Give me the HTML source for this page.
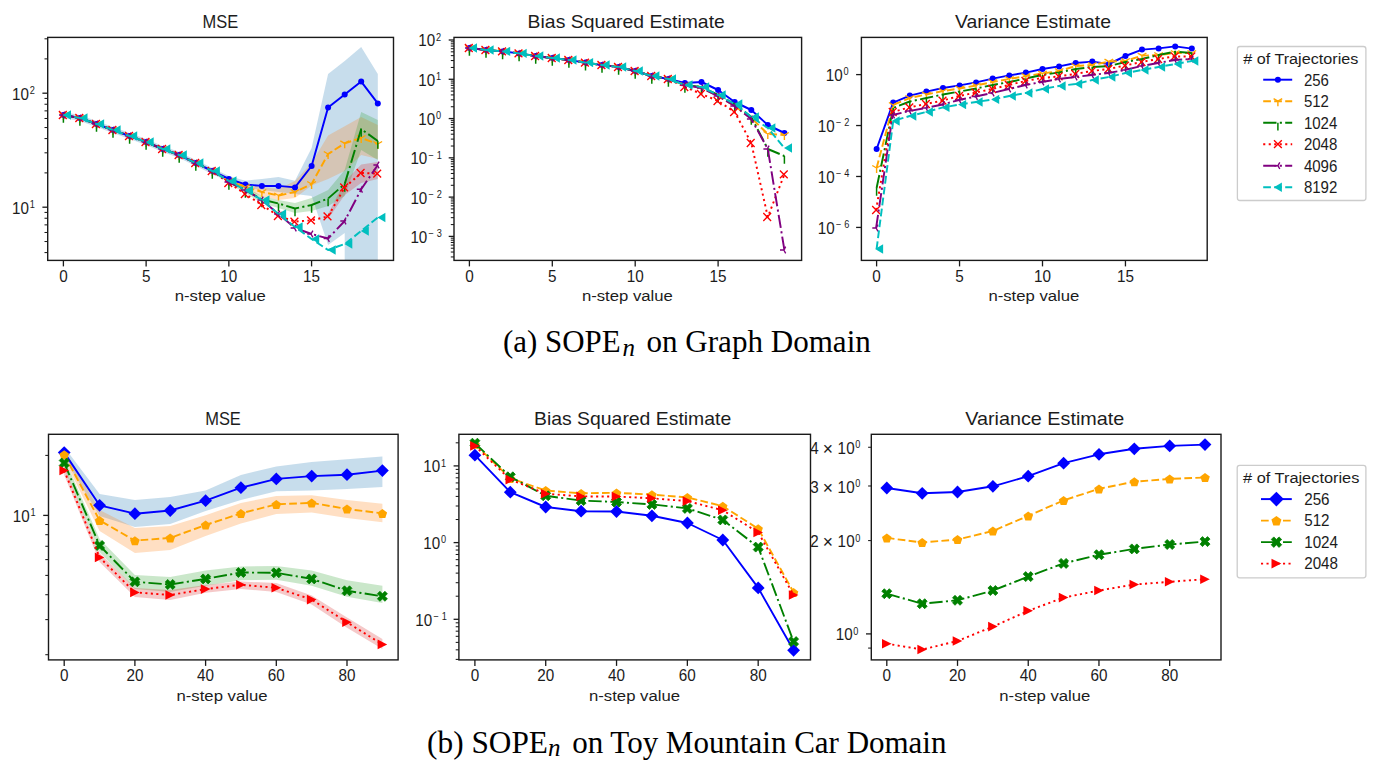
<!DOCTYPE html>
<html><head><meta charset="utf-8"><style>
html,body{margin:0;padding:0;background:#fff;width:1376px;height:760px;overflow:hidden}
svg{display:block}
</style></head><body>
<svg width="1376" height="760" viewBox="0 0 1376 760">
<rect width="1376" height="760" fill="#fff"/>
<clipPath id="c1"><rect x="47.7" y="37.4" width="345.8" height="222.99999999999997"/></clipPath><g clip-path="url(#c1)">
<polygon points="63.4,112.0 79.9,115.0 96.5,121.0 113.0,127.0 129.6,133.0 146.1,139.0 162.7,146.0 179.2,152.0 195.8,160.0 212.3,168.0 228.9,176.0 245.4,180.7 261.9,179.0 278.5,177.0 295.0,180.7 311.6,148.0 328.1,74.0 344.7,61.0 361.2,47.0 377.8,74.0 377.8,261.0 344.7,261.0 344.7,233.0 328.1,245.0 311.6,196.0 295.0,194.0 278.5,192.0 261.9,190.0 245.4,188.0 228.9,182.0 212.3,174.0 195.8,166.0 179.2,158.0 162.7,152.0 146.1,145.0 129.6,139.0 113.0,133.0 96.5,127.0 79.9,121.0 63.4,118.0" fill="#1f77b4" fill-opacity="0.25" stroke="none"/>
<polygon points="228.9,179.0 245.4,184.0 261.9,187.0 278.5,189.0 295.0,181.0 311.6,163.0 328.1,135.5 344.7,126.3 361.2,117.0 377.8,125.0 377.8,159.0 361.2,155.0 344.7,171.0 328.1,179.0 311.6,185.5 295.0,198.0 278.5,200.0 261.9,196.0 245.4,190.0 228.9,183.0" fill="#ff7f0e" fill-opacity="0.25" stroke="none"/>
<polygon points="228.9,180.0 245.4,187.0 261.9,196.0 278.5,200.0 295.0,203.0 311.6,198.0 328.1,190.0 344.7,170.0 361.2,112.0 377.8,120.0 377.8,160.0 361.2,150.0 344.7,196.0 328.1,206.0 311.6,211.0 295.0,213.0 278.5,208.0 261.9,203.0 245.4,193.0 228.9,184.0" fill="#2ca02c" fill-opacity="0.25" stroke="none"/>
<polygon points="328.1,214.0 344.7,181.6 361.2,164.5 377.8,162.0 377.8,179.0 361.2,183.0 344.7,195.0 328.1,219.0" fill="#d62728" fill-opacity="0.25" stroke="none"/>
<path d="M63.4,115.0L79.9,118.0L96.5,124.0L113.0,130.0L129.6,136.0L146.1,142.0L162.7,149.0L179.2,155.0L195.8,163.0L212.3,171.0L228.9,179.0L245.4,184.4L261.9,185.9L278.5,185.9L295.0,187.4L311.6,166.0L328.1,107.5L344.7,94.6L361.2,81.6L377.8,103.4" fill="none" stroke="#0000ff" stroke-width="1.95" stroke-linejoin="round"/>
<circle cx="63.4" cy="115.0" r="3.0" fill="#0000ff"/>
<circle cx="79.9" cy="118.0" r="3.0" fill="#0000ff"/>
<circle cx="96.5" cy="124.0" r="3.0" fill="#0000ff"/>
<circle cx="113.0" cy="130.0" r="3.0" fill="#0000ff"/>
<circle cx="129.6" cy="136.0" r="3.0" fill="#0000ff"/>
<circle cx="146.1" cy="142.0" r="3.0" fill="#0000ff"/>
<circle cx="162.7" cy="149.0" r="3.0" fill="#0000ff"/>
<circle cx="179.2" cy="155.0" r="3.0" fill="#0000ff"/>
<circle cx="195.8" cy="163.0" r="3.0" fill="#0000ff"/>
<circle cx="212.3" cy="171.0" r="3.0" fill="#0000ff"/>
<circle cx="228.9" cy="179.0" r="3.0" fill="#0000ff"/>
<circle cx="245.4" cy="184.4" r="3.0" fill="#0000ff"/>
<circle cx="261.9" cy="185.9" r="3.0" fill="#0000ff"/>
<circle cx="278.5" cy="185.9" r="3.0" fill="#0000ff"/>
<circle cx="295.0" cy="187.4" r="3.0" fill="#0000ff"/>
<circle cx="311.6" cy="166.0" r="3.0" fill="#0000ff"/>
<circle cx="328.1" cy="107.5" r="3.0" fill="#0000ff"/>
<circle cx="344.7" cy="94.6" r="3.0" fill="#0000ff"/>
<circle cx="361.2" cy="81.6" r="3.0" fill="#0000ff"/>
<circle cx="377.8" cy="103.4" r="3.0" fill="#0000ff"/>
<path d="M63.4,115.0L79.9,118.0L96.5,124.0L113.0,130.0L129.6,136.0L146.1,142.0L162.7,149.0L179.2,155.0L195.8,163.0L212.3,171.0L228.9,181.0L245.4,187.0L261.9,192.0L278.5,195.5L295.0,192.0L311.6,184.0L328.1,154.0L344.7,143.3L361.2,138.0L377.8,144.0" fill="none" stroke="#ffa500" stroke-width="1.95" stroke-linejoin="round" stroke-dasharray="7.7,3.3"/>
<path d="M63.4,115.0L63.4,120.0M63.4,115.0L59.1,112.5M63.4,115.0L67.7,112.5" stroke="#ffa500" stroke-width="1.4" fill="none"/>
<path d="M79.9,118.0L79.9,123.0M79.9,118.0L75.6,115.5M79.9,118.0L84.3,115.5" stroke="#ffa500" stroke-width="1.4" fill="none"/>
<path d="M96.5,124.0L96.5,129.0M96.5,124.0L92.2,121.5M96.5,124.0L100.8,121.5" stroke="#ffa500" stroke-width="1.4" fill="none"/>
<path d="M113.0,130.0L113.0,135.0M113.0,130.0L108.7,127.5M113.0,130.0L117.4,127.5" stroke="#ffa500" stroke-width="1.4" fill="none"/>
<path d="M129.6,136.0L129.6,141.0M129.6,136.0L125.3,133.5M129.6,136.0L133.9,133.5" stroke="#ffa500" stroke-width="1.4" fill="none"/>
<path d="M146.1,142.0L146.1,147.0M146.1,142.0L141.8,139.5M146.1,142.0L150.5,139.5" stroke="#ffa500" stroke-width="1.4" fill="none"/>
<path d="M162.7,149.0L162.7,154.0M162.7,149.0L158.3,146.5M162.7,149.0L167.0,146.5" stroke="#ffa500" stroke-width="1.4" fill="none"/>
<path d="M179.2,155.0L179.2,160.0M179.2,155.0L174.9,152.5M179.2,155.0L183.5,152.5" stroke="#ffa500" stroke-width="1.4" fill="none"/>
<path d="M195.8,163.0L195.8,168.0M195.8,163.0L191.4,160.5M195.8,163.0L200.1,160.5" stroke="#ffa500" stroke-width="1.4" fill="none"/>
<path d="M212.3,171.0L212.3,176.0M212.3,171.0L208.0,168.5M212.3,171.0L216.6,168.5" stroke="#ffa500" stroke-width="1.4" fill="none"/>
<path d="M228.9,181.0L228.9,186.0M228.9,181.0L224.5,178.5M228.9,181.0L233.2,178.5" stroke="#ffa500" stroke-width="1.4" fill="none"/>
<path d="M245.4,187.0L245.4,192.0M245.4,187.0L241.1,184.5M245.4,187.0L249.7,184.5" stroke="#ffa500" stroke-width="1.4" fill="none"/>
<path d="M261.9,192.0L261.9,197.0M261.9,192.0L257.6,189.5M261.9,192.0L266.3,189.5" stroke="#ffa500" stroke-width="1.4" fill="none"/>
<path d="M278.5,195.5L278.5,200.5M278.5,195.5L274.2,193.0M278.5,195.5L282.8,193.0" stroke="#ffa500" stroke-width="1.4" fill="none"/>
<path d="M295.0,192.0L295.0,197.0M295.0,192.0L290.7,189.5M295.0,192.0L299.4,189.5" stroke="#ffa500" stroke-width="1.4" fill="none"/>
<path d="M311.6,184.0L311.6,189.0M311.6,184.0L307.2,181.5M311.6,184.0L315.9,181.5" stroke="#ffa500" stroke-width="1.4" fill="none"/>
<path d="M328.1,154.0L328.1,159.0M328.1,154.0L323.8,151.5M328.1,154.0L332.4,151.5" stroke="#ffa500" stroke-width="1.4" fill="none"/>
<path d="M344.7,143.3L344.7,148.3M344.7,143.3L340.3,140.8M344.7,143.3L349.0,140.8" stroke="#ffa500" stroke-width="1.4" fill="none"/>
<path d="M361.2,138.0L361.2,143.0M361.2,138.0L356.9,135.5M361.2,138.0L365.5,135.5" stroke="#ffa500" stroke-width="1.4" fill="none"/>
<path d="M377.8,144.0L377.8,149.0M377.8,144.0L373.4,141.5M377.8,144.0L382.1,141.5" stroke="#ffa500" stroke-width="1.4" fill="none"/>
<path d="M63.4,115.0L79.9,118.0L96.5,124.0L113.0,130.0L129.6,136.0L146.1,142.0L162.7,149.0L179.2,155.0L195.8,163.0L212.3,171.0L228.9,182.0L245.4,190.0L261.9,199.5L278.5,203.5L295.0,208.5L311.6,205.0L328.1,198.5L344.7,184.0L361.2,129.0L377.8,141.0" fill="none" stroke="#008000" stroke-width="1.95" stroke-linejoin="round" stroke-dasharray="13.3,3.3,2.1,3.3"/>
<path d="M63.4,115.0L63.4,122.8" stroke="#008000" stroke-width="1.5" fill="none"/>
<path d="M79.9,118.0L79.9,125.8" stroke="#008000" stroke-width="1.5" fill="none"/>
<path d="M96.5,124.0L96.5,131.8" stroke="#008000" stroke-width="1.5" fill="none"/>
<path d="M113.0,130.0L113.0,137.8" stroke="#008000" stroke-width="1.5" fill="none"/>
<path d="M129.6,136.0L129.6,143.8" stroke="#008000" stroke-width="1.5" fill="none"/>
<path d="M146.1,142.0L146.1,149.8" stroke="#008000" stroke-width="1.5" fill="none"/>
<path d="M162.7,149.0L162.7,156.8" stroke="#008000" stroke-width="1.5" fill="none"/>
<path d="M179.2,155.0L179.2,162.8" stroke="#008000" stroke-width="1.5" fill="none"/>
<path d="M195.8,163.0L195.8,170.8" stroke="#008000" stroke-width="1.5" fill="none"/>
<path d="M212.3,171.0L212.3,178.8" stroke="#008000" stroke-width="1.5" fill="none"/>
<path d="M228.9,182.0L228.9,189.8" stroke="#008000" stroke-width="1.5" fill="none"/>
<path d="M245.4,190.0L245.4,197.8" stroke="#008000" stroke-width="1.5" fill="none"/>
<path d="M261.9,199.5L261.9,207.3" stroke="#008000" stroke-width="1.5" fill="none"/>
<path d="M278.5,203.5L278.5,211.3" stroke="#008000" stroke-width="1.5" fill="none"/>
<path d="M295.0,208.5L295.0,216.3" stroke="#008000" stroke-width="1.5" fill="none"/>
<path d="M311.6,205.0L311.6,212.8" stroke="#008000" stroke-width="1.5" fill="none"/>
<path d="M328.1,198.5L328.1,206.3" stroke="#008000" stroke-width="1.5" fill="none"/>
<path d="M344.7,184.0L344.7,191.8" stroke="#008000" stroke-width="1.5" fill="none"/>
<path d="M361.2,129.0L361.2,136.8" stroke="#008000" stroke-width="1.5" fill="none"/>
<path d="M377.8,141.0L377.8,148.8" stroke="#008000" stroke-width="1.5" fill="none"/>
<path d="M63.4,115.0L79.9,118.0L96.5,124.0L113.0,130.0L129.6,136.0L146.1,142.0L162.7,149.0L179.2,155.0L195.8,163.0L212.3,171.0L228.9,183.0L245.4,194.0L261.9,205.0L278.5,216.0L295.0,221.6L311.6,220.3L328.1,216.3L344.7,187.4L361.2,173.0L377.8,173.6" fill="none" stroke="#ff0000" stroke-width="1.95" stroke-linejoin="round" stroke-dasharray="2.1,3.4"/>
<path d="M58.9,111.1L66.7,118.9M58.9,118.9L66.7,111.1" stroke="#ff0000" stroke-width="1.35" fill="none"/>
<path d="M75.4,114.1L83.2,121.9M75.4,121.9L83.2,114.1" stroke="#ff0000" stroke-width="1.35" fill="none"/>
<path d="M92.0,120.1L99.8,127.9M92.0,127.9L99.8,120.1" stroke="#ff0000" stroke-width="1.35" fill="none"/>
<path d="M108.5,126.1L116.3,133.9M108.5,133.9L116.3,126.1" stroke="#ff0000" stroke-width="1.35" fill="none"/>
<path d="M125.1,132.1L132.9,139.9M125.1,139.9L132.9,132.1" stroke="#ff0000" stroke-width="1.35" fill="none"/>
<path d="M141.6,138.1L149.4,145.9M141.6,145.9L149.4,138.1" stroke="#ff0000" stroke-width="1.35" fill="none"/>
<path d="M158.2,145.1L166.0,152.9M158.2,152.9L166.0,145.1" stroke="#ff0000" stroke-width="1.35" fill="none"/>
<path d="M174.7,151.1L182.5,158.9M174.7,158.9L182.5,151.1" stroke="#ff0000" stroke-width="1.35" fill="none"/>
<path d="M191.3,159.1L199.1,166.9M191.3,166.9L199.1,159.1" stroke="#ff0000" stroke-width="1.35" fill="none"/>
<path d="M207.8,167.1L215.6,174.9M207.8,174.9L215.6,167.1" stroke="#ff0000" stroke-width="1.35" fill="none"/>
<path d="M224.4,179.1L232.2,186.9M224.4,186.9L232.2,179.1" stroke="#ff0000" stroke-width="1.35" fill="none"/>
<path d="M240.9,190.1L248.7,197.9M240.9,197.9L248.7,190.1" stroke="#ff0000" stroke-width="1.35" fill="none"/>
<path d="M257.4,201.1L265.2,208.9M257.4,208.9L265.2,201.1" stroke="#ff0000" stroke-width="1.35" fill="none"/>
<path d="M274.0,212.1L281.8,219.9M274.0,219.9L281.8,212.1" stroke="#ff0000" stroke-width="1.35" fill="none"/>
<path d="M290.5,217.7L298.3,225.5M290.5,225.5L298.3,217.7" stroke="#ff0000" stroke-width="1.35" fill="none"/>
<path d="M307.1,216.4L314.9,224.2M307.1,224.2L314.9,216.4" stroke="#ff0000" stroke-width="1.35" fill="none"/>
<path d="M323.6,212.4L331.4,220.2M323.6,220.2L331.4,212.4" stroke="#ff0000" stroke-width="1.35" fill="none"/>
<path d="M340.2,183.5L348.0,191.3M340.2,191.3L348.0,183.5" stroke="#ff0000" stroke-width="1.35" fill="none"/>
<path d="M356.7,169.1L364.5,176.9M356.7,176.9L364.5,169.1" stroke="#ff0000" stroke-width="1.35" fill="none"/>
<path d="M373.3,169.7L381.1,177.5M373.3,177.5L381.1,169.7" stroke="#ff0000" stroke-width="1.35" fill="none"/>
<path d="M63.4,115.0L79.9,118.0L96.5,124.0L113.0,130.0L129.6,136.0L146.1,142.0L162.7,149.0L179.2,155.0L195.8,163.0L212.3,171.0L228.9,182.0L245.4,190.0L261.9,200.0L278.5,214.0L295.0,228.0L311.6,234.0L328.1,238.5L344.7,221.0L361.2,189.3L377.8,165.0" fill="none" stroke="#800080" stroke-width="1.95" stroke-linejoin="round" stroke-dasharray="13.3,3.3,2.1,3.3"/>
<path d="M62.8,115.0L59.0,115.0M62.8,115.0L64.7,111.7M62.8,115.0L64.7,118.3" stroke="#800080" stroke-width="1.4" fill="none"/>
<path d="M79.3,118.0L75.5,118.0M79.3,118.0L81.2,114.7M79.3,118.0L81.2,121.3" stroke="#800080" stroke-width="1.4" fill="none"/>
<path d="M95.9,124.0L92.1,124.0M95.9,124.0L97.8,120.7M95.9,124.0L97.8,127.3" stroke="#800080" stroke-width="1.4" fill="none"/>
<path d="M112.4,130.0L108.6,130.0M112.4,130.0L114.3,126.7M112.4,130.0L114.3,133.3" stroke="#800080" stroke-width="1.4" fill="none"/>
<path d="M129.0,136.0L125.2,136.0M129.0,136.0L130.9,132.7M129.0,136.0L130.9,139.3" stroke="#800080" stroke-width="1.4" fill="none"/>
<path d="M145.5,142.0L141.7,142.0M145.5,142.0L147.4,138.7M145.5,142.0L147.4,145.3" stroke="#800080" stroke-width="1.4" fill="none"/>
<path d="M162.1,149.0L158.3,149.0M162.1,149.0L164.0,145.7M162.1,149.0L164.0,152.3" stroke="#800080" stroke-width="1.4" fill="none"/>
<path d="M178.6,155.0L174.8,155.0M178.6,155.0L180.5,151.7M178.6,155.0L180.5,158.3" stroke="#800080" stroke-width="1.4" fill="none"/>
<path d="M195.2,163.0L191.4,163.0M195.2,163.0L197.1,159.7M195.2,163.0L197.1,166.3" stroke="#800080" stroke-width="1.4" fill="none"/>
<path d="M211.7,171.0L207.9,171.0M211.7,171.0L213.6,167.7M211.7,171.0L213.6,174.3" stroke="#800080" stroke-width="1.4" fill="none"/>
<path d="M228.3,182.0L224.5,182.0M228.3,182.0L230.2,178.7M228.3,182.0L230.2,185.3" stroke="#800080" stroke-width="1.4" fill="none"/>
<path d="M244.8,190.0L241.0,190.0M244.8,190.0L246.7,186.7M244.8,190.0L246.7,193.3" stroke="#800080" stroke-width="1.4" fill="none"/>
<path d="M261.3,200.0L257.5,200.0M261.3,200.0L263.2,196.7M261.3,200.0L263.2,203.3" stroke="#800080" stroke-width="1.4" fill="none"/>
<path d="M277.9,214.0L274.1,214.0M277.9,214.0L279.8,210.7M277.9,214.0L279.8,217.3" stroke="#800080" stroke-width="1.4" fill="none"/>
<path d="M294.4,228.0L290.6,228.0M294.4,228.0L296.3,224.7M294.4,228.0L296.3,231.3" stroke="#800080" stroke-width="1.4" fill="none"/>
<path d="M311.0,234.0L307.2,234.0M311.0,234.0L312.9,230.7M311.0,234.0L312.9,237.3" stroke="#800080" stroke-width="1.4" fill="none"/>
<path d="M327.5,238.5L323.7,238.5M327.5,238.5L329.4,235.2M327.5,238.5L329.4,241.8" stroke="#800080" stroke-width="1.4" fill="none"/>
<path d="M344.1,221.0L340.3,221.0M344.1,221.0L346.0,217.7M344.1,221.0L346.0,224.3" stroke="#800080" stroke-width="1.4" fill="none"/>
<path d="M360.6,189.3L356.8,189.3M360.6,189.3L362.5,186.0M360.6,189.3L362.5,192.6" stroke="#800080" stroke-width="1.4" fill="none"/>
<path d="M377.2,165.0L373.4,165.0M377.2,165.0L379.1,161.7M377.2,165.0L379.1,168.3" stroke="#800080" stroke-width="1.4" fill="none"/>
<path d="M63.4,115.0L79.9,118.0L96.5,124.0L113.0,130.0L129.6,136.0L146.1,142.0L162.7,149.0L179.2,155.0L195.8,163.0L212.3,171.0L228.9,181.0L245.4,190.0L261.9,200.0L278.5,214.0L295.0,227.0L311.6,239.0L328.1,250.0L344.7,244.0L361.2,231.0L377.8,217.5" fill="none" stroke="#00bfbf" stroke-width="1.95" stroke-linejoin="round" stroke-dasharray="7.7,3.3"/>
<path d="M63.0,115.0L71.0,110.3L71.0,119.7Z" fill="#00bfbf"/>
<path d="M79.5,118.0L87.5,113.3L87.5,122.7Z" fill="#00bfbf"/>
<path d="M96.1,124.0L104.1,119.3L104.1,128.7Z" fill="#00bfbf"/>
<path d="M112.6,130.0L120.6,125.3L120.6,134.7Z" fill="#00bfbf"/>
<path d="M129.2,136.0L137.2,131.3L137.2,140.7Z" fill="#00bfbf"/>
<path d="M145.7,142.0L153.7,137.3L153.7,146.7Z" fill="#00bfbf"/>
<path d="M162.3,149.0L170.3,144.3L170.3,153.7Z" fill="#00bfbf"/>
<path d="M178.8,155.0L186.8,150.3L186.8,159.7Z" fill="#00bfbf"/>
<path d="M195.4,163.0L203.4,158.3L203.4,167.7Z" fill="#00bfbf"/>
<path d="M211.9,171.0L219.9,166.3L219.9,175.7Z" fill="#00bfbf"/>
<path d="M228.5,181.0L236.5,176.3L236.5,185.7Z" fill="#00bfbf"/>
<path d="M245.0,190.0L253.0,185.3L253.0,194.7Z" fill="#00bfbf"/>
<path d="M261.5,200.0L269.5,195.3L269.5,204.7Z" fill="#00bfbf"/>
<path d="M278.1,214.0L286.1,209.3L286.1,218.7Z" fill="#00bfbf"/>
<path d="M294.6,227.0L302.6,222.3L302.6,231.7Z" fill="#00bfbf"/>
<path d="M311.2,239.0L319.2,234.3L319.2,243.7Z" fill="#00bfbf"/>
<path d="M327.7,250.0L335.7,245.3L335.7,254.7Z" fill="#00bfbf"/>
<path d="M344.3,244.0L352.3,239.3L352.3,248.7Z" fill="#00bfbf"/>
<path d="M360.8,231.0L368.8,226.3L368.8,235.7Z" fill="#00bfbf"/>
<path d="M377.4,217.5L385.4,212.8L385.4,222.2Z" fill="#00bfbf"/>
</g>
<rect x="47.7" y="37.4" width="345.8" height="222.99999999999997" fill="none" stroke="#1a1a1a" stroke-width="1.4"/>
<line x1="63.4" y1="260.4" x2="63.4" y2="266.4" stroke="#1a1a1a" stroke-width="1.3"/>
<text transform="translate(63.40,281.60) scale(1,1.09)" font-family='"Liberation Sans", sans-serif' font-size="15.0" text-anchor="middle" fill="#1c1c1c" textLength="8.5" lengthAdjust="spacingAndGlyphs" >0</text>
<line x1="146.125" y1="260.4" x2="146.125" y2="266.4" stroke="#1a1a1a" stroke-width="1.3"/>
<text transform="translate(146.12,281.60) scale(1,1.09)" font-family='"Liberation Sans", sans-serif' font-size="15.0" text-anchor="middle" fill="#1c1c1c" textLength="8.5" lengthAdjust="spacingAndGlyphs" >5</text>
<line x1="228.85000000000002" y1="260.4" x2="228.85000000000002" y2="266.4" stroke="#1a1a1a" stroke-width="1.3"/>
<text transform="translate(228.85,281.60) scale(1,1.09)" font-family='"Liberation Sans", sans-serif' font-size="15.0" text-anchor="middle" fill="#1c1c1c" textLength="17.0" lengthAdjust="spacingAndGlyphs" >10</text>
<line x1="311.575" y1="260.4" x2="311.575" y2="266.4" stroke="#1a1a1a" stroke-width="1.3"/>
<text transform="translate(311.57,281.60) scale(1,1.09)" font-family='"Liberation Sans", sans-serif' font-size="15.0" text-anchor="middle" fill="#1c1c1c" textLength="17.0" lengthAdjust="spacingAndGlyphs" >15</text>
<line x1="42.40" y1="93.20" x2="47.7" y2="93.20" stroke="#1a1a1a" stroke-width="1.3"/>
<line x1="42.40" y1="207.20" x2="47.7" y2="207.20" stroke="#1a1a1a" stroke-width="1.3"/>
<line x1="44.50" y1="252.57" x2="47.7" y2="252.57" stroke="#1a1a1a" stroke-width="1.05"/>
<line x1="44.50" y1="241.52" x2="47.7" y2="241.52" stroke="#1a1a1a" stroke-width="1.05"/>
<line x1="44.50" y1="232.49" x2="47.7" y2="232.49" stroke="#1a1a1a" stroke-width="1.05"/>
<line x1="44.50" y1="224.86" x2="47.7" y2="224.86" stroke="#1a1a1a" stroke-width="1.05"/>
<line x1="44.50" y1="218.25" x2="47.7" y2="218.25" stroke="#1a1a1a" stroke-width="1.05"/>
<line x1="44.50" y1="212.42" x2="47.7" y2="212.42" stroke="#1a1a1a" stroke-width="1.05"/>
<line x1="44.50" y1="172.88" x2="47.7" y2="172.88" stroke="#1a1a1a" stroke-width="1.05"/>
<line x1="44.50" y1="152.81" x2="47.7" y2="152.81" stroke="#1a1a1a" stroke-width="1.05"/>
<line x1="44.50" y1="138.57" x2="47.7" y2="138.57" stroke="#1a1a1a" stroke-width="1.05"/>
<line x1="44.50" y1="127.52" x2="47.7" y2="127.52" stroke="#1a1a1a" stroke-width="1.05"/>
<line x1="44.50" y1="118.49" x2="47.7" y2="118.49" stroke="#1a1a1a" stroke-width="1.05"/>
<line x1="44.50" y1="110.86" x2="47.7" y2="110.86" stroke="#1a1a1a" stroke-width="1.05"/>
<line x1="44.50" y1="104.25" x2="47.7" y2="104.25" stroke="#1a1a1a" stroke-width="1.05"/>
<line x1="44.50" y1="98.42" x2="47.7" y2="98.42" stroke="#1a1a1a" stroke-width="1.05"/>
<line x1="44.50" y1="58.88" x2="47.7" y2="58.88" stroke="#1a1a1a" stroke-width="1.05"/>
<line x1="44.50" y1="38.81" x2="47.7" y2="38.81" stroke="#1a1a1a" stroke-width="1.05"/>
<text transform="translate(16.30,99.60) scale(1,1.09)" font-family='"Liberation Sans", sans-serif' font-size="15.2" text-anchor="middle" fill="#1c1c1c">1</text>
<text transform="translate(24.80,99.60) scale(1,1.09)" font-family='"Liberation Sans", sans-serif' font-size="15.2" text-anchor="middle" fill="#1c1c1c">0</text>
<text transform="translate(32.30,94.00) scale(1,1.09)" font-family='"Liberation Sans", sans-serif' font-size="9.2" text-anchor="middle" fill="#1c1c1c">2</text>
<text transform="translate(16.30,213.60) scale(1,1.09)" font-family='"Liberation Sans", sans-serif' font-size="15.2" text-anchor="middle" fill="#1c1c1c">1</text>
<text transform="translate(24.80,213.60) scale(1,1.09)" font-family='"Liberation Sans", sans-serif' font-size="15.2" text-anchor="middle" fill="#1c1c1c">0</text>
<text transform="translate(32.30,208.00) scale(1,1.09)" font-family='"Liberation Sans", sans-serif' font-size="9.2" text-anchor="middle" fill="#1c1c1c">1</text>
<text transform="translate(220.40,28.40) scale(1,1.09)" font-family='"Liberation Sans", sans-serif' font-size="16.8" text-anchor="middle" fill="#1c1c1c" textLength="35.7" lengthAdjust="spacingAndGlyphs" >MSE</text>
<text transform="translate(220.20,301.00) scale(1,1.09)" font-family='"Liberation Sans", sans-serif' font-size="13.9" text-anchor="middle" fill="#1c1c1c" textLength="91" lengthAdjust="spacingAndGlyphs" >n-step value</text>
<clipPath id="c2"><rect x="454.0" y="37.4" width="347.6" height="222.99999999999997"/></clipPath><g clip-path="url(#c2)">
<path d="M469.4,48.0L486.0,50.0L502.6,51.4L519.1,53.4L535.7,56.0L552.3,58.0L568.9,60.0L585.5,62.6L602.0,65.0L618.6,67.0L635.2,71.0L651.8,76.0L668.4,79.0L684.9,83.0L701.5,82.0L718.1,90.0L734.7,102.0L751.3,110.0L767.8,125.0L784.4,133.0" fill="none" stroke="#0000ff" stroke-width="1.95" stroke-linejoin="round"/>
<circle cx="469.4" cy="48.0" r="3.0" fill="#0000ff"/>
<circle cx="486.0" cy="50.0" r="3.0" fill="#0000ff"/>
<circle cx="502.6" cy="51.4" r="3.0" fill="#0000ff"/>
<circle cx="519.1" cy="53.4" r="3.0" fill="#0000ff"/>
<circle cx="535.7" cy="56.0" r="3.0" fill="#0000ff"/>
<circle cx="552.3" cy="58.0" r="3.0" fill="#0000ff"/>
<circle cx="568.9" cy="60.0" r="3.0" fill="#0000ff"/>
<circle cx="585.5" cy="62.6" r="3.0" fill="#0000ff"/>
<circle cx="602.0" cy="65.0" r="3.0" fill="#0000ff"/>
<circle cx="618.6" cy="67.0" r="3.0" fill="#0000ff"/>
<circle cx="635.2" cy="71.0" r="3.0" fill="#0000ff"/>
<circle cx="651.8" cy="76.0" r="3.0" fill="#0000ff"/>
<circle cx="668.4" cy="79.0" r="3.0" fill="#0000ff"/>
<circle cx="684.9" cy="83.0" r="3.0" fill="#0000ff"/>
<circle cx="701.5" cy="82.0" r="3.0" fill="#0000ff"/>
<circle cx="718.1" cy="90.0" r="3.0" fill="#0000ff"/>
<circle cx="734.7" cy="102.0" r="3.0" fill="#0000ff"/>
<circle cx="751.3" cy="110.0" r="3.0" fill="#0000ff"/>
<circle cx="767.8" cy="125.0" r="3.0" fill="#0000ff"/>
<circle cx="784.4" cy="133.0" r="3.0" fill="#0000ff"/>
<path d="M469.4,48.0L486.0,50.0L502.6,51.4L519.1,53.4L535.7,56.0L552.3,58.0L568.9,60.0L585.5,62.6L602.0,65.0L618.6,67.0L635.2,71.0L651.8,76.0L668.4,79.0L684.9,85.0L701.5,88.0L718.1,96.0L734.7,106.0L751.3,118.0L767.8,134.0L784.4,135.0" fill="none" stroke="#ffa500" stroke-width="1.95" stroke-linejoin="round" stroke-dasharray="7.7,3.3"/>
<path d="M469.4,48.0L469.4,53.0M469.4,48.0L465.1,45.5M469.4,48.0L473.7,45.5" stroke="#ffa500" stroke-width="1.4" fill="none"/>
<path d="M486.0,50.0L486.0,55.0M486.0,50.0L481.6,47.5M486.0,50.0L490.3,47.5" stroke="#ffa500" stroke-width="1.4" fill="none"/>
<path d="M502.6,51.4L502.6,56.4M502.6,51.4L498.2,48.9M502.6,51.4L506.9,48.9" stroke="#ffa500" stroke-width="1.4" fill="none"/>
<path d="M519.1,53.4L519.1,58.4M519.1,53.4L514.8,50.9M519.1,53.4L523.5,50.9" stroke="#ffa500" stroke-width="1.4" fill="none"/>
<path d="M535.7,56.0L535.7,61.0M535.7,56.0L531.4,53.5M535.7,56.0L540.1,53.5" stroke="#ffa500" stroke-width="1.4" fill="none"/>
<path d="M552.3,58.0L552.3,63.0M552.3,58.0L548.0,55.5M552.3,58.0L556.6,55.5" stroke="#ffa500" stroke-width="1.4" fill="none"/>
<path d="M568.9,60.0L568.9,65.0M568.9,60.0L564.5,57.5M568.9,60.0L573.2,57.5" stroke="#ffa500" stroke-width="1.4" fill="none"/>
<path d="M585.5,62.6L585.5,67.6M585.5,62.6L581.1,60.1M585.5,62.6L589.8,60.1" stroke="#ffa500" stroke-width="1.4" fill="none"/>
<path d="M602.0,65.0L602.0,70.0M602.0,65.0L597.7,62.5M602.0,65.0L606.4,62.5" stroke="#ffa500" stroke-width="1.4" fill="none"/>
<path d="M618.6,67.0L618.6,72.0M618.6,67.0L614.3,64.5M618.6,67.0L622.9,64.5" stroke="#ffa500" stroke-width="1.4" fill="none"/>
<path d="M635.2,71.0L635.2,76.0M635.2,71.0L630.9,68.5M635.2,71.0L639.5,68.5" stroke="#ffa500" stroke-width="1.4" fill="none"/>
<path d="M651.8,76.0L651.8,81.0M651.8,76.0L647.4,73.5M651.8,76.0L656.1,73.5" stroke="#ffa500" stroke-width="1.4" fill="none"/>
<path d="M668.4,79.0L668.4,84.0M668.4,79.0L664.0,76.5M668.4,79.0L672.7,76.5" stroke="#ffa500" stroke-width="1.4" fill="none"/>
<path d="M684.9,85.0L684.9,90.0M684.9,85.0L680.6,82.5M684.9,85.0L689.3,82.5" stroke="#ffa500" stroke-width="1.4" fill="none"/>
<path d="M701.5,88.0L701.5,93.0M701.5,88.0L697.2,85.5M701.5,88.0L705.9,85.5" stroke="#ffa500" stroke-width="1.4" fill="none"/>
<path d="M718.1,96.0L718.1,101.0M718.1,96.0L713.8,93.5M718.1,96.0L722.4,93.5" stroke="#ffa500" stroke-width="1.4" fill="none"/>
<path d="M734.7,106.0L734.7,111.0M734.7,106.0L730.3,103.5M734.7,106.0L739.0,103.5" stroke="#ffa500" stroke-width="1.4" fill="none"/>
<path d="M751.3,118.0L751.3,123.0M751.3,118.0L746.9,115.5M751.3,118.0L755.6,115.5" stroke="#ffa500" stroke-width="1.4" fill="none"/>
<path d="M767.8,134.0L767.8,139.0M767.8,134.0L763.5,131.5M767.8,134.0L772.2,131.5" stroke="#ffa500" stroke-width="1.4" fill="none"/>
<path d="M784.4,135.0L784.4,140.0M784.4,135.0L780.1,132.5M784.4,135.0L788.8,132.5" stroke="#ffa500" stroke-width="1.4" fill="none"/>
<path d="M469.4,48.0L486.0,50.0L502.6,51.4L519.1,53.4L535.7,56.0L552.3,58.0L568.9,60.0L585.5,62.6L602.0,65.0L618.6,67.0L635.2,71.0L651.8,76.0L668.4,79.0L684.9,85.0L701.5,87.0L718.1,95.0L734.7,104.0L751.3,117.0L767.8,149.0L784.4,156.0" fill="none" stroke="#008000" stroke-width="1.95" stroke-linejoin="round" stroke-dasharray="13.3,3.3,2.1,3.3"/>
<path d="M469.4,48.0L469.4,55.8" stroke="#008000" stroke-width="1.5" fill="none"/>
<path d="M486.0,50.0L486.0,57.8" stroke="#008000" stroke-width="1.5" fill="none"/>
<path d="M502.6,51.4L502.6,59.2" stroke="#008000" stroke-width="1.5" fill="none"/>
<path d="M519.1,53.4L519.1,61.2" stroke="#008000" stroke-width="1.5" fill="none"/>
<path d="M535.7,56.0L535.7,63.8" stroke="#008000" stroke-width="1.5" fill="none"/>
<path d="M552.3,58.0L552.3,65.8" stroke="#008000" stroke-width="1.5" fill="none"/>
<path d="M568.9,60.0L568.9,67.8" stroke="#008000" stroke-width="1.5" fill="none"/>
<path d="M585.5,62.6L585.5,70.4" stroke="#008000" stroke-width="1.5" fill="none"/>
<path d="M602.0,65.0L602.0,72.8" stroke="#008000" stroke-width="1.5" fill="none"/>
<path d="M618.6,67.0L618.6,74.8" stroke="#008000" stroke-width="1.5" fill="none"/>
<path d="M635.2,71.0L635.2,78.8" stroke="#008000" stroke-width="1.5" fill="none"/>
<path d="M651.8,76.0L651.8,83.8" stroke="#008000" stroke-width="1.5" fill="none"/>
<path d="M668.4,79.0L668.4,86.8" stroke="#008000" stroke-width="1.5" fill="none"/>
<path d="M684.9,85.0L684.9,92.8" stroke="#008000" stroke-width="1.5" fill="none"/>
<path d="M701.5,87.0L701.5,94.8" stroke="#008000" stroke-width="1.5" fill="none"/>
<path d="M718.1,95.0L718.1,102.8" stroke="#008000" stroke-width="1.5" fill="none"/>
<path d="M734.7,104.0L734.7,111.8" stroke="#008000" stroke-width="1.5" fill="none"/>
<path d="M751.3,117.0L751.3,124.8" stroke="#008000" stroke-width="1.5" fill="none"/>
<path d="M767.8,149.0L767.8,156.8" stroke="#008000" stroke-width="1.5" fill="none"/>
<path d="M784.4,156.0L784.4,163.8" stroke="#008000" stroke-width="1.5" fill="none"/>
<path d="M469.4,48.0L486.0,50.0L502.6,51.4L519.1,53.4L535.7,56.0L552.3,58.0L568.9,60.0L585.5,62.6L602.0,65.0L618.6,67.0L635.2,71.0L651.8,76.0L668.4,79.0L684.9,87.0L701.5,94.0L718.1,101.0L734.7,112.0L751.3,143.0L767.8,217.0L784.4,174.4" fill="none" stroke="#ff0000" stroke-width="1.95" stroke-linejoin="round" stroke-dasharray="2.1,3.4"/>
<path d="M464.9,44.1L472.7,51.9M464.9,51.9L472.7,44.1" stroke="#ff0000" stroke-width="1.35" fill="none"/>
<path d="M481.5,46.1L489.3,53.9M481.5,53.9L489.3,46.1" stroke="#ff0000" stroke-width="1.35" fill="none"/>
<path d="M498.1,47.5L505.9,55.3M498.1,55.3L505.9,47.5" stroke="#ff0000" stroke-width="1.35" fill="none"/>
<path d="M514.6,49.5L522.4,57.3M514.6,57.3L522.4,49.5" stroke="#ff0000" stroke-width="1.35" fill="none"/>
<path d="M531.2,52.1L539.0,59.9M531.2,59.9L539.0,52.1" stroke="#ff0000" stroke-width="1.35" fill="none"/>
<path d="M547.8,54.1L555.6,61.9M547.8,61.9L555.6,54.1" stroke="#ff0000" stroke-width="1.35" fill="none"/>
<path d="M564.4,56.1L572.2,63.9M564.4,63.9L572.2,56.1" stroke="#ff0000" stroke-width="1.35" fill="none"/>
<path d="M581.0,58.7L588.8,66.5M581.0,66.5L588.8,58.7" stroke="#ff0000" stroke-width="1.35" fill="none"/>
<path d="M597.5,61.1L605.3,68.9M597.5,68.9L605.3,61.1" stroke="#ff0000" stroke-width="1.35" fill="none"/>
<path d="M614.1,63.1L621.9,70.9M614.1,70.9L621.9,63.1" stroke="#ff0000" stroke-width="1.35" fill="none"/>
<path d="M630.7,67.1L638.5,74.9M630.7,74.9L638.5,67.1" stroke="#ff0000" stroke-width="1.35" fill="none"/>
<path d="M647.3,72.1L655.1,79.9M647.3,79.9L655.1,72.1" stroke="#ff0000" stroke-width="1.35" fill="none"/>
<path d="M663.9,75.1L671.7,82.9M663.9,82.9L671.7,75.1" stroke="#ff0000" stroke-width="1.35" fill="none"/>
<path d="M680.4,83.1L688.2,90.9M680.4,90.9L688.2,83.1" stroke="#ff0000" stroke-width="1.35" fill="none"/>
<path d="M697.0,90.1L704.8,97.9M697.0,97.9L704.8,90.1" stroke="#ff0000" stroke-width="1.35" fill="none"/>
<path d="M713.6,97.1L721.4,104.9M713.6,104.9L721.4,97.1" stroke="#ff0000" stroke-width="1.35" fill="none"/>
<path d="M730.2,108.1L738.0,115.9M730.2,115.9L738.0,108.1" stroke="#ff0000" stroke-width="1.35" fill="none"/>
<path d="M746.8,139.1L754.6,146.9M746.8,146.9L754.6,139.1" stroke="#ff0000" stroke-width="1.35" fill="none"/>
<path d="M763.3,213.1L771.1,220.9M763.3,220.9L771.1,213.1" stroke="#ff0000" stroke-width="1.35" fill="none"/>
<path d="M779.9,170.5L787.7,178.3M779.9,178.3L787.7,170.5" stroke="#ff0000" stroke-width="1.35" fill="none"/>
<path d="M469.4,48.0L486.0,50.0L502.6,51.4L519.1,53.4L535.7,56.0L552.3,58.0L568.9,60.0L585.5,62.6L602.0,65.0L618.6,67.0L635.2,71.0L651.8,76.0L668.4,79.0L684.9,85.0L701.5,88.0L718.1,96.0L734.7,106.0L751.3,119.0L767.8,149.0L784.4,250.0" fill="none" stroke="#800080" stroke-width="1.95" stroke-linejoin="round" stroke-dasharray="13.3,3.3,2.1,3.3"/>
<path d="M468.8,48.0L465.0,48.0M468.8,48.0L470.7,44.7M468.8,48.0L470.7,51.3" stroke="#800080" stroke-width="1.4" fill="none"/>
<path d="M485.4,50.0L481.6,50.0M485.4,50.0L487.3,46.7M485.4,50.0L487.3,53.3" stroke="#800080" stroke-width="1.4" fill="none"/>
<path d="M502.0,51.4L498.2,51.4M502.0,51.4L503.9,48.1M502.0,51.4L503.9,54.7" stroke="#800080" stroke-width="1.4" fill="none"/>
<path d="M518.5,53.4L514.7,53.4M518.5,53.4L520.4,50.1M518.5,53.4L520.4,56.7" stroke="#800080" stroke-width="1.4" fill="none"/>
<path d="M535.1,56.0L531.3,56.0M535.1,56.0L537.0,52.7M535.1,56.0L537.0,59.3" stroke="#800080" stroke-width="1.4" fill="none"/>
<path d="M551.7,58.0L547.9,58.0M551.7,58.0L553.6,54.7M551.7,58.0L553.6,61.3" stroke="#800080" stroke-width="1.4" fill="none"/>
<path d="M568.3,60.0L564.5,60.0M568.3,60.0L570.2,56.7M568.3,60.0L570.2,63.3" stroke="#800080" stroke-width="1.4" fill="none"/>
<path d="M584.9,62.6L581.1,62.6M584.9,62.6L586.8,59.3M584.9,62.6L586.8,65.9" stroke="#800080" stroke-width="1.4" fill="none"/>
<path d="M601.4,65.0L597.6,65.0M601.4,65.0L603.3,61.7M601.4,65.0L603.3,68.3" stroke="#800080" stroke-width="1.4" fill="none"/>
<path d="M618.0,67.0L614.2,67.0M618.0,67.0L619.9,63.7M618.0,67.0L619.9,70.3" stroke="#800080" stroke-width="1.4" fill="none"/>
<path d="M634.6,71.0L630.8,71.0M634.6,71.0L636.5,67.7M634.6,71.0L636.5,74.3" stroke="#800080" stroke-width="1.4" fill="none"/>
<path d="M651.2,76.0L647.4,76.0M651.2,76.0L653.1,72.7M651.2,76.0L653.1,79.3" stroke="#800080" stroke-width="1.4" fill="none"/>
<path d="M667.8,79.0L664.0,79.0M667.8,79.0L669.7,75.7M667.8,79.0L669.7,82.3" stroke="#800080" stroke-width="1.4" fill="none"/>
<path d="M684.3,85.0L680.5,85.0M684.3,85.0L686.2,81.7M684.3,85.0L686.2,88.3" stroke="#800080" stroke-width="1.4" fill="none"/>
<path d="M700.9,88.0L697.1,88.0M700.9,88.0L702.8,84.7M700.9,88.0L702.8,91.3" stroke="#800080" stroke-width="1.4" fill="none"/>
<path d="M717.5,96.0L713.7,96.0M717.5,96.0L719.4,92.7M717.5,96.0L719.4,99.3" stroke="#800080" stroke-width="1.4" fill="none"/>
<path d="M734.1,106.0L730.3,106.0M734.1,106.0L736.0,102.7M734.1,106.0L736.0,109.3" stroke="#800080" stroke-width="1.4" fill="none"/>
<path d="M750.7,119.0L746.9,119.0M750.7,119.0L752.6,115.7M750.7,119.0L752.6,122.3" stroke="#800080" stroke-width="1.4" fill="none"/>
<path d="M767.2,149.0L763.4,149.0M767.2,149.0L769.1,145.7M767.2,149.0L769.1,152.3" stroke="#800080" stroke-width="1.4" fill="none"/>
<path d="M783.8,250.0L780.0,250.0M783.8,250.0L785.7,246.7M783.8,250.0L785.7,253.3" stroke="#800080" stroke-width="1.4" fill="none"/>
<path d="M469.4,48.0L486.0,50.0L502.6,51.4L519.1,53.4L535.7,56.0L552.3,58.0L568.9,60.0L585.5,62.6L602.0,65.0L618.6,67.0L635.2,71.0L651.8,76.0L668.4,79.0L684.9,85.0L701.5,87.0L718.1,95.0L734.7,104.0L751.3,117.0L767.8,128.0L784.4,148.0" fill="none" stroke="#00bfbf" stroke-width="1.95" stroke-linejoin="round" stroke-dasharray="7.7,3.3"/>
<path d="M469.0,48.0L477.0,43.3L477.0,52.7Z" fill="#00bfbf"/>
<path d="M485.6,50.0L493.6,45.3L493.6,54.7Z" fill="#00bfbf"/>
<path d="M502.2,51.4L510.2,46.7L510.2,56.1Z" fill="#00bfbf"/>
<path d="M518.7,53.4L526.7,48.7L526.7,58.1Z" fill="#00bfbf"/>
<path d="M535.3,56.0L543.3,51.3L543.3,60.7Z" fill="#00bfbf"/>
<path d="M551.9,58.0L559.9,53.3L559.9,62.7Z" fill="#00bfbf"/>
<path d="M568.5,60.0L576.5,55.3L576.5,64.7Z" fill="#00bfbf"/>
<path d="M585.1,62.6L593.1,57.9L593.1,67.3Z" fill="#00bfbf"/>
<path d="M601.6,65.0L609.6,60.3L609.6,69.7Z" fill="#00bfbf"/>
<path d="M618.2,67.0L626.2,62.3L626.2,71.7Z" fill="#00bfbf"/>
<path d="M634.8,71.0L642.8,66.3L642.8,75.7Z" fill="#00bfbf"/>
<path d="M651.4,76.0L659.4,71.3L659.4,80.7Z" fill="#00bfbf"/>
<path d="M668.0,79.0L676.0,74.3L676.0,83.7Z" fill="#00bfbf"/>
<path d="M684.5,85.0L692.5,80.3L692.5,89.7Z" fill="#00bfbf"/>
<path d="M701.1,87.0L709.1,82.3L709.1,91.7Z" fill="#00bfbf"/>
<path d="M717.7,95.0L725.7,90.3L725.7,99.7Z" fill="#00bfbf"/>
<path d="M734.3,104.0L742.3,99.3L742.3,108.7Z" fill="#00bfbf"/>
<path d="M750.9,117.0L758.9,112.3L758.9,121.7Z" fill="#00bfbf"/>
<path d="M767.4,128.0L775.4,123.3L775.4,132.7Z" fill="#00bfbf"/>
<path d="M784.0,148.0L792.0,143.3L792.0,152.7Z" fill="#00bfbf"/>
</g>
<rect x="454.0" y="37.4" width="347.6" height="222.99999999999997" fill="none" stroke="#1a1a1a" stroke-width="1.4"/>
<line x1="469.4" y1="260.4" x2="469.4" y2="266.4" stroke="#1a1a1a" stroke-width="1.3"/>
<text transform="translate(469.40,281.60) scale(1,1.09)" font-family='"Liberation Sans", sans-serif' font-size="15.0" text-anchor="middle" fill="#1c1c1c" textLength="8.5" lengthAdjust="spacingAndGlyphs" >0</text>
<line x1="552.3" y1="260.4" x2="552.3" y2="266.4" stroke="#1a1a1a" stroke-width="1.3"/>
<text transform="translate(552.30,281.60) scale(1,1.09)" font-family='"Liberation Sans", sans-serif' font-size="15.0" text-anchor="middle" fill="#1c1c1c" textLength="8.5" lengthAdjust="spacingAndGlyphs" >5</text>
<line x1="635.1999999999999" y1="260.4" x2="635.1999999999999" y2="266.4" stroke="#1a1a1a" stroke-width="1.3"/>
<text transform="translate(635.20,281.60) scale(1,1.09)" font-family='"Liberation Sans", sans-serif' font-size="15.0" text-anchor="middle" fill="#1c1c1c" textLength="17.0" lengthAdjust="spacingAndGlyphs" >10</text>
<line x1="718.0999999999999" y1="260.4" x2="718.0999999999999" y2="266.4" stroke="#1a1a1a" stroke-width="1.3"/>
<text transform="translate(718.10,281.60) scale(1,1.09)" font-family='"Liberation Sans", sans-serif' font-size="15.0" text-anchor="middle" fill="#1c1c1c" textLength="17.0" lengthAdjust="spacingAndGlyphs" >15</text>
<line x1="448.70" y1="40.00" x2="454.0" y2="40.00" stroke="#1a1a1a" stroke-width="1.3"/>
<line x1="448.70" y1="79.28" x2="454.0" y2="79.28" stroke="#1a1a1a" stroke-width="1.3"/>
<line x1="448.70" y1="118.56" x2="454.0" y2="118.56" stroke="#1a1a1a" stroke-width="1.3"/>
<line x1="448.70" y1="157.84" x2="454.0" y2="157.84" stroke="#1a1a1a" stroke-width="1.3"/>
<line x1="448.70" y1="197.12" x2="454.0" y2="197.12" stroke="#1a1a1a" stroke-width="1.3"/>
<line x1="448.70" y1="236.40" x2="454.0" y2="236.40" stroke="#1a1a1a" stroke-width="1.3"/>
<line x1="450.80" y1="67.46" x2="454.0" y2="67.46" stroke="#1a1a1a" stroke-width="1.05"/>
<line x1="450.80" y1="60.54" x2="454.0" y2="60.54" stroke="#1a1a1a" stroke-width="1.05"/>
<line x1="450.80" y1="55.63" x2="454.0" y2="55.63" stroke="#1a1a1a" stroke-width="1.05"/>
<line x1="450.80" y1="51.82" x2="454.0" y2="51.82" stroke="#1a1a1a" stroke-width="1.05"/>
<line x1="450.80" y1="48.71" x2="454.0" y2="48.71" stroke="#1a1a1a" stroke-width="1.05"/>
<line x1="450.80" y1="46.08" x2="454.0" y2="46.08" stroke="#1a1a1a" stroke-width="1.05"/>
<line x1="450.80" y1="43.81" x2="454.0" y2="43.81" stroke="#1a1a1a" stroke-width="1.05"/>
<line x1="450.80" y1="41.80" x2="454.0" y2="41.80" stroke="#1a1a1a" stroke-width="1.05"/>
<line x1="450.80" y1="106.74" x2="454.0" y2="106.74" stroke="#1a1a1a" stroke-width="1.05"/>
<line x1="450.80" y1="99.82" x2="454.0" y2="99.82" stroke="#1a1a1a" stroke-width="1.05"/>
<line x1="450.80" y1="94.91" x2="454.0" y2="94.91" stroke="#1a1a1a" stroke-width="1.05"/>
<line x1="450.80" y1="91.10" x2="454.0" y2="91.10" stroke="#1a1a1a" stroke-width="1.05"/>
<line x1="450.80" y1="87.99" x2="454.0" y2="87.99" stroke="#1a1a1a" stroke-width="1.05"/>
<line x1="450.80" y1="85.36" x2="454.0" y2="85.36" stroke="#1a1a1a" stroke-width="1.05"/>
<line x1="450.80" y1="83.09" x2="454.0" y2="83.09" stroke="#1a1a1a" stroke-width="1.05"/>
<line x1="450.80" y1="81.08" x2="454.0" y2="81.08" stroke="#1a1a1a" stroke-width="1.05"/>
<line x1="450.80" y1="146.02" x2="454.0" y2="146.02" stroke="#1a1a1a" stroke-width="1.05"/>
<line x1="450.80" y1="139.10" x2="454.0" y2="139.10" stroke="#1a1a1a" stroke-width="1.05"/>
<line x1="450.80" y1="134.19" x2="454.0" y2="134.19" stroke="#1a1a1a" stroke-width="1.05"/>
<line x1="450.80" y1="130.38" x2="454.0" y2="130.38" stroke="#1a1a1a" stroke-width="1.05"/>
<line x1="450.80" y1="127.27" x2="454.0" y2="127.27" stroke="#1a1a1a" stroke-width="1.05"/>
<line x1="450.80" y1="124.64" x2="454.0" y2="124.64" stroke="#1a1a1a" stroke-width="1.05"/>
<line x1="450.80" y1="122.37" x2="454.0" y2="122.37" stroke="#1a1a1a" stroke-width="1.05"/>
<line x1="450.80" y1="120.36" x2="454.0" y2="120.36" stroke="#1a1a1a" stroke-width="1.05"/>
<line x1="450.80" y1="185.30" x2="454.0" y2="185.30" stroke="#1a1a1a" stroke-width="1.05"/>
<line x1="450.80" y1="178.38" x2="454.0" y2="178.38" stroke="#1a1a1a" stroke-width="1.05"/>
<line x1="450.80" y1="173.47" x2="454.0" y2="173.47" stroke="#1a1a1a" stroke-width="1.05"/>
<line x1="450.80" y1="169.66" x2="454.0" y2="169.66" stroke="#1a1a1a" stroke-width="1.05"/>
<line x1="450.80" y1="166.55" x2="454.0" y2="166.55" stroke="#1a1a1a" stroke-width="1.05"/>
<line x1="450.80" y1="163.92" x2="454.0" y2="163.92" stroke="#1a1a1a" stroke-width="1.05"/>
<line x1="450.80" y1="161.65" x2="454.0" y2="161.65" stroke="#1a1a1a" stroke-width="1.05"/>
<line x1="450.80" y1="159.64" x2="454.0" y2="159.64" stroke="#1a1a1a" stroke-width="1.05"/>
<line x1="450.80" y1="224.58" x2="454.0" y2="224.58" stroke="#1a1a1a" stroke-width="1.05"/>
<line x1="450.80" y1="217.66" x2="454.0" y2="217.66" stroke="#1a1a1a" stroke-width="1.05"/>
<line x1="450.80" y1="212.75" x2="454.0" y2="212.75" stroke="#1a1a1a" stroke-width="1.05"/>
<line x1="450.80" y1="208.94" x2="454.0" y2="208.94" stroke="#1a1a1a" stroke-width="1.05"/>
<line x1="450.80" y1="205.83" x2="454.0" y2="205.83" stroke="#1a1a1a" stroke-width="1.05"/>
<line x1="450.80" y1="203.20" x2="454.0" y2="203.20" stroke="#1a1a1a" stroke-width="1.05"/>
<line x1="450.80" y1="200.93" x2="454.0" y2="200.93" stroke="#1a1a1a" stroke-width="1.05"/>
<line x1="450.80" y1="198.92" x2="454.0" y2="198.92" stroke="#1a1a1a" stroke-width="1.05"/>
<line x1="450.80" y1="256.94" x2="454.0" y2="256.94" stroke="#1a1a1a" stroke-width="1.05"/>
<line x1="450.80" y1="252.03" x2="454.0" y2="252.03" stroke="#1a1a1a" stroke-width="1.05"/>
<line x1="450.80" y1="248.22" x2="454.0" y2="248.22" stroke="#1a1a1a" stroke-width="1.05"/>
<line x1="450.80" y1="245.11" x2="454.0" y2="245.11" stroke="#1a1a1a" stroke-width="1.05"/>
<line x1="450.80" y1="242.48" x2="454.0" y2="242.48" stroke="#1a1a1a" stroke-width="1.05"/>
<line x1="450.80" y1="240.21" x2="454.0" y2="240.21" stroke="#1a1a1a" stroke-width="1.05"/>
<line x1="450.80" y1="238.20" x2="454.0" y2="238.20" stroke="#1a1a1a" stroke-width="1.05"/>
<text transform="translate(422.60,46.40) scale(1,1.09)" font-family='"Liberation Sans", sans-serif' font-size="15.2" text-anchor="middle" fill="#1c1c1c">1</text>
<text transform="translate(431.10,46.40) scale(1,1.09)" font-family='"Liberation Sans", sans-serif' font-size="15.2" text-anchor="middle" fill="#1c1c1c">0</text>
<text transform="translate(438.60,40.80) scale(1,1.09)" font-family='"Liberation Sans", sans-serif' font-size="9.2" text-anchor="middle" fill="#1c1c1c">2</text>
<text transform="translate(422.60,85.68) scale(1,1.09)" font-family='"Liberation Sans", sans-serif' font-size="15.2" text-anchor="middle" fill="#1c1c1c">1</text>
<text transform="translate(431.10,85.68) scale(1,1.09)" font-family='"Liberation Sans", sans-serif' font-size="15.2" text-anchor="middle" fill="#1c1c1c">0</text>
<text transform="translate(438.60,80.08) scale(1,1.09)" font-family='"Liberation Sans", sans-serif' font-size="9.2" text-anchor="middle" fill="#1c1c1c">1</text>
<text transform="translate(422.60,124.96) scale(1,1.09)" font-family='"Liberation Sans", sans-serif' font-size="15.2" text-anchor="middle" fill="#1c1c1c">1</text>
<text transform="translate(431.10,124.96) scale(1,1.09)" font-family='"Liberation Sans", sans-serif' font-size="15.2" text-anchor="middle" fill="#1c1c1c">0</text>
<text transform="translate(438.60,119.36) scale(1,1.09)" font-family='"Liberation Sans", sans-serif' font-size="9.2" text-anchor="middle" fill="#1c1c1c">0</text>
<text transform="translate(414.70,164.24) scale(1,1.09)" font-family='"Liberation Sans", sans-serif' font-size="15.2" text-anchor="middle" fill="#1c1c1c">1</text>
<text transform="translate(423.00,164.24) scale(1,1.09)" font-family='"Liberation Sans", sans-serif' font-size="15.2" text-anchor="middle" fill="#1c1c1c">0</text>
<text transform="translate(431.30,158.64) scale(1,1.09)" font-family='"Liberation Sans", sans-serif' font-size="9.2" text-anchor="middle" fill="#1c1c1c">−</text>
<text transform="translate(439.35,158.64) scale(1,1.09)" font-family='"Liberation Sans", sans-serif' font-size="9.2" text-anchor="middle" fill="#1c1c1c">1</text>
<text transform="translate(414.70,203.52) scale(1,1.09)" font-family='"Liberation Sans", sans-serif' font-size="15.2" text-anchor="middle" fill="#1c1c1c">1</text>
<text transform="translate(423.00,203.52) scale(1,1.09)" font-family='"Liberation Sans", sans-serif' font-size="15.2" text-anchor="middle" fill="#1c1c1c">0</text>
<text transform="translate(431.30,197.92) scale(1,1.09)" font-family='"Liberation Sans", sans-serif' font-size="9.2" text-anchor="middle" fill="#1c1c1c">−</text>
<text transform="translate(439.35,197.92) scale(1,1.09)" font-family='"Liberation Sans", sans-serif' font-size="9.2" text-anchor="middle" fill="#1c1c1c">2</text>
<text transform="translate(414.70,242.80) scale(1,1.09)" font-family='"Liberation Sans", sans-serif' font-size="15.2" text-anchor="middle" fill="#1c1c1c">1</text>
<text transform="translate(423.00,242.80) scale(1,1.09)" font-family='"Liberation Sans", sans-serif' font-size="15.2" text-anchor="middle" fill="#1c1c1c">0</text>
<text transform="translate(431.30,237.20) scale(1,1.09)" font-family='"Liberation Sans", sans-serif' font-size="9.2" text-anchor="middle" fill="#1c1c1c">−</text>
<text transform="translate(439.35,237.20) scale(1,1.09)" font-family='"Liberation Sans", sans-serif' font-size="9.2" text-anchor="middle" fill="#1c1c1c">3</text>
<text transform="translate(626.20,28.40) scale(1,1.09)" font-family='"Liberation Sans", sans-serif' font-size="16.8" text-anchor="middle" fill="#1c1c1c" textLength="197.2" lengthAdjust="spacingAndGlyphs" >Bias Squared Estimate</text>
<text transform="translate(627.40,301.00) scale(1,1.09)" font-family='"Liberation Sans", sans-serif' font-size="13.9" text-anchor="middle" fill="#1c1c1c" textLength="91" lengthAdjust="spacingAndGlyphs" >n-step value</text>
<clipPath id="c3"><rect x="861.4" y="37.4" width="345.80000000000007" height="222.99999999999997"/></clipPath><g clip-path="url(#c3)">
<path d="M876.6,149.0L893.2,102.6L909.8,95.6L926.4,91.6L943.0,88.0L959.6,85.4L976.1,82.4L992.7,78.6L1009.3,75.4L1025.9,72.6L1042.5,69.0L1059.1,66.4L1075.7,63.0L1092.3,61.6L1108.9,64.0L1125.5,56.0L1142.0,49.6L1158.6,48.4L1175.2,46.4L1191.8,48.6" fill="none" stroke="#0000ff" stroke-width="1.95" stroke-linejoin="round"/>
<circle cx="876.6" cy="149.0" r="3.0" fill="#0000ff"/>
<circle cx="893.2" cy="102.6" r="3.0" fill="#0000ff"/>
<circle cx="909.8" cy="95.6" r="3.0" fill="#0000ff"/>
<circle cx="926.4" cy="91.6" r="3.0" fill="#0000ff"/>
<circle cx="943.0" cy="88.0" r="3.0" fill="#0000ff"/>
<circle cx="959.6" cy="85.4" r="3.0" fill="#0000ff"/>
<circle cx="976.1" cy="82.4" r="3.0" fill="#0000ff"/>
<circle cx="992.7" cy="78.6" r="3.0" fill="#0000ff"/>
<circle cx="1009.3" cy="75.4" r="3.0" fill="#0000ff"/>
<circle cx="1025.9" cy="72.6" r="3.0" fill="#0000ff"/>
<circle cx="1042.5" cy="69.0" r="3.0" fill="#0000ff"/>
<circle cx="1059.1" cy="66.4" r="3.0" fill="#0000ff"/>
<circle cx="1075.7" cy="63.0" r="3.0" fill="#0000ff"/>
<circle cx="1092.3" cy="61.6" r="3.0" fill="#0000ff"/>
<circle cx="1108.9" cy="64.0" r="3.0" fill="#0000ff"/>
<circle cx="1125.5" cy="56.0" r="3.0" fill="#0000ff"/>
<circle cx="1142.0" cy="49.6" r="3.0" fill="#0000ff"/>
<circle cx="1158.6" cy="48.4" r="3.0" fill="#0000ff"/>
<circle cx="1175.2" cy="46.4" r="3.0" fill="#0000ff"/>
<circle cx="1191.8" cy="48.6" r="3.0" fill="#0000ff"/>
<path d="M876.6,168.0L893.2,105.0L909.8,98.0L926.4,94.5L943.0,91.0L959.6,88.5L976.1,85.5L992.7,82.0L1009.3,79.0L1025.9,76.0L1042.5,73.6L1059.1,71.0L1075.7,66.0L1092.3,65.0L1108.9,61.6L1125.5,61.0L1142.0,55.6L1158.6,55.0L1175.2,53.0L1191.8,53.0" fill="none" stroke="#ffa500" stroke-width="1.95" stroke-linejoin="round" stroke-dasharray="7.7,3.3"/>
<path d="M876.6,168.0L876.6,173.0M876.6,168.0L872.3,165.5M876.6,168.0L880.9,165.5" stroke="#ffa500" stroke-width="1.4" fill="none"/>
<path d="M893.2,105.0L893.2,110.0M893.2,105.0L888.9,102.5M893.2,105.0L897.5,102.5" stroke="#ffa500" stroke-width="1.4" fill="none"/>
<path d="M909.8,98.0L909.8,103.0M909.8,98.0L905.4,95.5M909.8,98.0L914.1,95.5" stroke="#ffa500" stroke-width="1.4" fill="none"/>
<path d="M926.4,94.5L926.4,99.5M926.4,94.5L922.0,92.0M926.4,94.5L930.7,92.0" stroke="#ffa500" stroke-width="1.4" fill="none"/>
<path d="M943.0,91.0L943.0,96.0M943.0,91.0L938.6,88.5M943.0,91.0L947.3,88.5" stroke="#ffa500" stroke-width="1.4" fill="none"/>
<path d="M959.6,88.5L959.6,93.5M959.6,88.5L955.2,86.0M959.6,88.5L963.9,86.0" stroke="#ffa500" stroke-width="1.4" fill="none"/>
<path d="M976.1,85.5L976.1,90.5M976.1,85.5L971.8,83.0M976.1,85.5L980.5,83.0" stroke="#ffa500" stroke-width="1.4" fill="none"/>
<path d="M992.7,82.0L992.7,87.0M992.7,82.0L988.4,79.5M992.7,82.0L997.1,79.5" stroke="#ffa500" stroke-width="1.4" fill="none"/>
<path d="M1009.3,79.0L1009.3,84.0M1009.3,79.0L1005.0,76.5M1009.3,79.0L1013.7,76.5" stroke="#ffa500" stroke-width="1.4" fill="none"/>
<path d="M1025.9,76.0L1025.9,81.0M1025.9,76.0L1021.6,73.5M1025.9,76.0L1030.2,73.5" stroke="#ffa500" stroke-width="1.4" fill="none"/>
<path d="M1042.5,73.6L1042.5,78.6M1042.5,73.6L1038.2,71.1M1042.5,73.6L1046.8,71.1" stroke="#ffa500" stroke-width="1.4" fill="none"/>
<path d="M1059.1,71.0L1059.1,76.0M1059.1,71.0L1054.8,68.5M1059.1,71.0L1063.4,68.5" stroke="#ffa500" stroke-width="1.4" fill="none"/>
<path d="M1075.7,66.0L1075.7,71.0M1075.7,66.0L1071.4,63.5M1075.7,66.0L1080.0,63.5" stroke="#ffa500" stroke-width="1.4" fill="none"/>
<path d="M1092.3,65.0L1092.3,70.0M1092.3,65.0L1087.9,62.5M1092.3,65.0L1096.6,62.5" stroke="#ffa500" stroke-width="1.4" fill="none"/>
<path d="M1108.9,61.6L1108.9,66.6M1108.9,61.6L1104.5,59.1M1108.9,61.6L1113.2,59.1" stroke="#ffa500" stroke-width="1.4" fill="none"/>
<path d="M1125.5,61.0L1125.5,66.0M1125.5,61.0L1121.1,58.5M1125.5,61.0L1129.8,58.5" stroke="#ffa500" stroke-width="1.4" fill="none"/>
<path d="M1142.0,55.6L1142.0,60.6M1142.0,55.6L1137.7,53.1M1142.0,55.6L1146.4,53.1" stroke="#ffa500" stroke-width="1.4" fill="none"/>
<path d="M1158.6,55.0L1158.6,60.0M1158.6,55.0L1154.3,52.5M1158.6,55.0L1163.0,52.5" stroke="#ffa500" stroke-width="1.4" fill="none"/>
<path d="M1175.2,53.0L1175.2,58.0M1175.2,53.0L1170.9,50.5M1175.2,53.0L1179.5,50.5" stroke="#ffa500" stroke-width="1.4" fill="none"/>
<path d="M1191.8,53.0L1191.8,58.0M1191.8,53.0L1187.5,50.5M1191.8,53.0L1196.1,50.5" stroke="#ffa500" stroke-width="1.4" fill="none"/>
<path d="M876.6,188.0L893.2,108.0L909.8,101.5L926.4,98.0L943.0,94.5L959.6,91.5L976.1,88.5L992.7,85.0L1009.3,82.0L1025.9,78.5L1042.5,75.0L1059.1,72.4L1075.7,69.0L1092.3,67.0L1108.9,66.0L1125.5,62.0L1142.0,59.0L1158.6,55.0L1175.2,51.6L1191.8,53.0" fill="none" stroke="#008000" stroke-width="1.95" stroke-linejoin="round" stroke-dasharray="13.3,3.3,2.1,3.3"/>
<path d="M876.6,188.0L876.6,195.8" stroke="#008000" stroke-width="1.5" fill="none"/>
<path d="M893.2,108.0L893.2,115.8" stroke="#008000" stroke-width="1.5" fill="none"/>
<path d="M909.8,101.5L909.8,109.3" stroke="#008000" stroke-width="1.5" fill="none"/>
<path d="M926.4,98.0L926.4,105.8" stroke="#008000" stroke-width="1.5" fill="none"/>
<path d="M943.0,94.5L943.0,102.3" stroke="#008000" stroke-width="1.5" fill="none"/>
<path d="M959.6,91.5L959.6,99.3" stroke="#008000" stroke-width="1.5" fill="none"/>
<path d="M976.1,88.5L976.1,96.3" stroke="#008000" stroke-width="1.5" fill="none"/>
<path d="M992.7,85.0L992.7,92.8" stroke="#008000" stroke-width="1.5" fill="none"/>
<path d="M1009.3,82.0L1009.3,89.8" stroke="#008000" stroke-width="1.5" fill="none"/>
<path d="M1025.9,78.5L1025.9,86.3" stroke="#008000" stroke-width="1.5" fill="none"/>
<path d="M1042.5,75.0L1042.5,82.8" stroke="#008000" stroke-width="1.5" fill="none"/>
<path d="M1059.1,72.4L1059.1,80.2" stroke="#008000" stroke-width="1.5" fill="none"/>
<path d="M1075.7,69.0L1075.7,76.8" stroke="#008000" stroke-width="1.5" fill="none"/>
<path d="M1092.3,67.0L1092.3,74.8" stroke="#008000" stroke-width="1.5" fill="none"/>
<path d="M1108.9,66.0L1108.9,73.8" stroke="#008000" stroke-width="1.5" fill="none"/>
<path d="M1125.5,62.0L1125.5,69.8" stroke="#008000" stroke-width="1.5" fill="none"/>
<path d="M1142.0,59.0L1142.0,66.8" stroke="#008000" stroke-width="1.5" fill="none"/>
<path d="M1158.6,55.0L1158.6,62.8" stroke="#008000" stroke-width="1.5" fill="none"/>
<path d="M1175.2,51.6L1175.2,59.4" stroke="#008000" stroke-width="1.5" fill="none"/>
<path d="M1191.8,53.0L1191.8,60.8" stroke="#008000" stroke-width="1.5" fill="none"/>
<path d="M876.1,210.0L892.7,112.0L909.3,107.4L925.9,104.0L942.5,100.6L959.1,96.0L975.6,92.6L992.2,89.0L1008.8,85.0L1025.4,81.0L1042.0,78.0L1058.6,76.4L1075.2,74.0L1091.8,71.0L1108.4,69.0L1125.0,65.6L1141.5,62.0L1158.1,59.0L1174.7,56.4L1191.3,56.4" fill="none" stroke="#ff0000" stroke-width="1.95" stroke-linejoin="round" stroke-dasharray="2.1,3.4"/>
<path d="M872.2,206.1L880.0,213.9M872.2,213.9L880.0,206.1" stroke="#ff0000" stroke-width="1.35" fill="none"/>
<path d="M888.8,108.1L896.6,115.9M888.8,115.9L896.6,108.1" stroke="#ff0000" stroke-width="1.35" fill="none"/>
<path d="M905.4,103.5L913.2,111.3M905.4,111.3L913.2,103.5" stroke="#ff0000" stroke-width="1.35" fill="none"/>
<path d="M922.0,100.1L929.8,107.9M922.0,107.9L929.8,100.1" stroke="#ff0000" stroke-width="1.35" fill="none"/>
<path d="M938.6,96.7L946.4,104.5M938.6,104.5L946.4,96.7" stroke="#ff0000" stroke-width="1.35" fill="none"/>
<path d="M955.2,92.1L963.0,99.9M955.2,99.9L963.0,92.1" stroke="#ff0000" stroke-width="1.35" fill="none"/>
<path d="M971.7,88.7L979.5,96.5M971.7,96.5L979.5,88.7" stroke="#ff0000" stroke-width="1.35" fill="none"/>
<path d="M988.3,85.1L996.1,92.9M988.3,92.9L996.1,85.1" stroke="#ff0000" stroke-width="1.35" fill="none"/>
<path d="M1004.9,81.1L1012.7,88.9M1004.9,88.9L1012.7,81.1" stroke="#ff0000" stroke-width="1.35" fill="none"/>
<path d="M1021.5,77.1L1029.3,84.9M1021.5,84.9L1029.3,77.1" stroke="#ff0000" stroke-width="1.35" fill="none"/>
<path d="M1038.1,74.1L1045.9,81.9M1038.1,81.9L1045.9,74.1" stroke="#ff0000" stroke-width="1.35" fill="none"/>
<path d="M1054.7,72.5L1062.5,80.3M1054.7,80.3L1062.5,72.5" stroke="#ff0000" stroke-width="1.35" fill="none"/>
<path d="M1071.3,70.1L1079.1,77.9M1071.3,77.9L1079.1,70.1" stroke="#ff0000" stroke-width="1.35" fill="none"/>
<path d="M1087.9,67.1L1095.7,74.9M1087.9,74.9L1095.7,67.1" stroke="#ff0000" stroke-width="1.35" fill="none"/>
<path d="M1104.5,65.1L1112.3,72.9M1104.5,72.9L1112.3,65.1" stroke="#ff0000" stroke-width="1.35" fill="none"/>
<path d="M1121.0,61.7L1128.9,69.5M1121.0,69.5L1128.9,61.7" stroke="#ff0000" stroke-width="1.35" fill="none"/>
<path d="M1137.6,58.1L1145.4,65.9M1137.6,65.9L1145.4,58.1" stroke="#ff0000" stroke-width="1.35" fill="none"/>
<path d="M1154.2,55.1L1162.0,62.9M1154.2,62.9L1162.0,55.1" stroke="#ff0000" stroke-width="1.35" fill="none"/>
<path d="M1170.8,52.5L1178.6,60.3M1170.8,60.3L1178.6,52.5" stroke="#ff0000" stroke-width="1.35" fill="none"/>
<path d="M1187.4,52.5L1195.2,60.3M1187.4,60.3L1195.2,52.5" stroke="#ff0000" stroke-width="1.35" fill="none"/>
<path d="M876.1,228.0L892.7,115.0L909.3,111.0L925.9,108.0L942.5,104.5L959.1,100.0L975.6,96.5L992.2,93.0L1008.8,89.0L1025.4,85.0L1042.0,82.0L1058.6,79.0L1075.2,77.0L1091.8,75.0L1108.4,73.0L1125.0,70.0L1141.5,66.0L1158.1,63.0L1174.7,60.0L1191.3,59.0" fill="none" stroke="#800080" stroke-width="1.95" stroke-linejoin="round" stroke-dasharray="13.3,3.3,2.1,3.3"/>
<path d="M876.1,228.0L872.3,228.0M876.1,228.0L878.0,224.7M876.1,228.0L878.0,231.3" stroke="#800080" stroke-width="1.4" fill="none"/>
<path d="M892.7,115.0L888.9,115.0M892.7,115.0L894.6,111.7M892.7,115.0L894.6,118.3" stroke="#800080" stroke-width="1.4" fill="none"/>
<path d="M909.3,111.0L905.5,111.0M909.3,111.0L911.2,107.7M909.3,111.0L911.2,114.3" stroke="#800080" stroke-width="1.4" fill="none"/>
<path d="M925.9,108.0L922.1,108.0M925.9,108.0L927.8,104.7M925.9,108.0L927.8,111.3" stroke="#800080" stroke-width="1.4" fill="none"/>
<path d="M942.5,104.5L938.7,104.5M942.5,104.5L944.4,101.2M942.5,104.5L944.4,107.8" stroke="#800080" stroke-width="1.4" fill="none"/>
<path d="M959.1,100.0L955.3,100.0M959.1,100.0L961.0,96.7M959.1,100.0L961.0,103.3" stroke="#800080" stroke-width="1.4" fill="none"/>
<path d="M975.6,96.5L971.8,96.5M975.6,96.5L977.5,93.2M975.6,96.5L977.5,99.8" stroke="#800080" stroke-width="1.4" fill="none"/>
<path d="M992.2,93.0L988.4,93.0M992.2,93.0L994.1,89.7M992.2,93.0L994.1,96.3" stroke="#800080" stroke-width="1.4" fill="none"/>
<path d="M1008.8,89.0L1005.0,89.0M1008.8,89.0L1010.7,85.7M1008.8,89.0L1010.7,92.3" stroke="#800080" stroke-width="1.4" fill="none"/>
<path d="M1025.4,85.0L1021.6,85.0M1025.4,85.0L1027.3,81.7M1025.4,85.0L1027.3,88.3" stroke="#800080" stroke-width="1.4" fill="none"/>
<path d="M1042.0,82.0L1038.2,82.0M1042.0,82.0L1043.9,78.7M1042.0,82.0L1043.9,85.3" stroke="#800080" stroke-width="1.4" fill="none"/>
<path d="M1058.6,79.0L1054.8,79.0M1058.6,79.0L1060.5,75.7M1058.6,79.0L1060.5,82.3" stroke="#800080" stroke-width="1.4" fill="none"/>
<path d="M1075.2,77.0L1071.4,77.0M1075.2,77.0L1077.1,73.7M1075.2,77.0L1077.1,80.3" stroke="#800080" stroke-width="1.4" fill="none"/>
<path d="M1091.8,75.0L1088.0,75.0M1091.8,75.0L1093.7,71.7M1091.8,75.0L1093.7,78.3" stroke="#800080" stroke-width="1.4" fill="none"/>
<path d="M1108.4,73.0L1104.6,73.0M1108.4,73.0L1110.3,69.7M1108.4,73.0L1110.3,76.3" stroke="#800080" stroke-width="1.4" fill="none"/>
<path d="M1125.0,70.0L1121.2,70.0M1125.0,70.0L1126.9,66.7M1125.0,70.0L1126.9,73.3" stroke="#800080" stroke-width="1.4" fill="none"/>
<path d="M1141.5,66.0L1137.7,66.0M1141.5,66.0L1143.4,62.7M1141.5,66.0L1143.4,69.3" stroke="#800080" stroke-width="1.4" fill="none"/>
<path d="M1158.1,63.0L1154.3,63.0M1158.1,63.0L1160.0,59.7M1158.1,63.0L1160.0,66.3" stroke="#800080" stroke-width="1.4" fill="none"/>
<path d="M1174.7,60.0L1170.9,60.0M1174.7,60.0L1176.6,56.7M1174.7,60.0L1176.6,63.3" stroke="#800080" stroke-width="1.4" fill="none"/>
<path d="M1191.3,59.0L1187.5,59.0M1191.3,59.0L1193.2,55.7M1191.3,59.0L1193.2,62.3" stroke="#800080" stroke-width="1.4" fill="none"/>
<path d="M876.6,249.0L893.2,121.0L909.8,116.0L926.4,112.0L943.0,107.4L959.6,104.6L976.1,102.0L992.7,99.4L1009.3,96.0L1025.9,93.0L1042.5,89.0L1059.1,86.0L1075.7,84.0L1092.3,80.0L1108.9,77.0L1125.5,73.0L1142.0,70.0L1158.6,67.0L1175.2,64.0L1191.8,61.0" fill="none" stroke="#00bfbf" stroke-width="1.95" stroke-linejoin="round" stroke-dasharray="7.7,3.3"/>
<path d="M875.1,249.0L883.1,244.3L883.1,253.7Z" fill="#00bfbf"/>
<path d="M891.7,121.0L899.7,116.3L899.7,125.7Z" fill="#00bfbf"/>
<path d="M908.3,116.0L916.3,111.3L916.3,120.7Z" fill="#00bfbf"/>
<path d="M924.9,112.0L932.9,107.3L932.9,116.7Z" fill="#00bfbf"/>
<path d="M941.5,107.4L949.5,102.7L949.5,112.1Z" fill="#00bfbf"/>
<path d="M958.1,104.6L966.1,99.9L966.1,109.3Z" fill="#00bfbf"/>
<path d="M974.6,102.0L982.6,97.3L982.6,106.7Z" fill="#00bfbf"/>
<path d="M991.2,99.4L999.2,94.7L999.2,104.1Z" fill="#00bfbf"/>
<path d="M1007.8,96.0L1015.8,91.3L1015.8,100.7Z" fill="#00bfbf"/>
<path d="M1024.4,93.0L1032.4,88.3L1032.4,97.7Z" fill="#00bfbf"/>
<path d="M1041.0,89.0L1049.0,84.3L1049.0,93.7Z" fill="#00bfbf"/>
<path d="M1057.6,86.0L1065.6,81.3L1065.6,90.7Z" fill="#00bfbf"/>
<path d="M1074.2,84.0L1082.2,79.3L1082.2,88.7Z" fill="#00bfbf"/>
<path d="M1090.8,80.0L1098.8,75.3L1098.8,84.7Z" fill="#00bfbf"/>
<path d="M1107.4,77.0L1115.4,72.3L1115.4,81.7Z" fill="#00bfbf"/>
<path d="M1124.0,73.0L1132.0,68.3L1132.0,77.7Z" fill="#00bfbf"/>
<path d="M1140.5,70.0L1148.5,65.3L1148.5,74.7Z" fill="#00bfbf"/>
<path d="M1157.1,67.0L1165.1,62.3L1165.1,71.7Z" fill="#00bfbf"/>
<path d="M1173.7,64.0L1181.7,59.3L1181.7,68.7Z" fill="#00bfbf"/>
<path d="M1190.3,61.0L1198.3,56.3L1198.3,65.7Z" fill="#00bfbf"/>
</g>
<rect x="861.4" y="37.4" width="345.80000000000007" height="222.99999999999997" fill="none" stroke="#1a1a1a" stroke-width="1.4"/>
<line x1="876.6" y1="260.4" x2="876.6" y2="266.4" stroke="#1a1a1a" stroke-width="1.3"/>
<text transform="translate(876.60,281.60) scale(1,1.09)" font-family='"Liberation Sans", sans-serif' font-size="15.0" text-anchor="middle" fill="#1c1c1c" textLength="8.5" lengthAdjust="spacingAndGlyphs" >0</text>
<line x1="959.5500000000001" y1="260.4" x2="959.5500000000001" y2="266.4" stroke="#1a1a1a" stroke-width="1.3"/>
<text transform="translate(959.55,281.60) scale(1,1.09)" font-family='"Liberation Sans", sans-serif' font-size="15.0" text-anchor="middle" fill="#1c1c1c" textLength="8.5" lengthAdjust="spacingAndGlyphs" >5</text>
<line x1="1042.5" y1="260.4" x2="1042.5" y2="266.4" stroke="#1a1a1a" stroke-width="1.3"/>
<text transform="translate(1042.50,281.60) scale(1,1.09)" font-family='"Liberation Sans", sans-serif' font-size="15.0" text-anchor="middle" fill="#1c1c1c" textLength="17.0" lengthAdjust="spacingAndGlyphs" >10</text>
<line x1="1125.45" y1="260.4" x2="1125.45" y2="266.4" stroke="#1a1a1a" stroke-width="1.3"/>
<text transform="translate(1125.45,281.60) scale(1,1.09)" font-family='"Liberation Sans", sans-serif' font-size="15.0" text-anchor="middle" fill="#1c1c1c" textLength="17.0" lengthAdjust="spacingAndGlyphs" >15</text>
<line x1="856.10" y1="74.60" x2="861.4" y2="74.60" stroke="#1a1a1a" stroke-width="1.3"/>
<text transform="translate(830.00,81.00) scale(1,1.09)" font-family='"Liberation Sans", sans-serif' font-size="15.2" text-anchor="middle" fill="#1c1c1c">1</text>
<text transform="translate(838.50,81.00) scale(1,1.09)" font-family='"Liberation Sans", sans-serif' font-size="15.2" text-anchor="middle" fill="#1c1c1c">0</text>
<text transform="translate(846.00,75.40) scale(1,1.09)" font-family='"Liberation Sans", sans-serif' font-size="9.2" text-anchor="middle" fill="#1c1c1c">0</text>
<line x1="856.10" y1="125.54" x2="861.4" y2="125.54" stroke="#1a1a1a" stroke-width="1.3"/>
<text transform="translate(822.10,131.94) scale(1,1.09)" font-family='"Liberation Sans", sans-serif' font-size="15.2" text-anchor="middle" fill="#1c1c1c">1</text>
<text transform="translate(830.40,131.94) scale(1,1.09)" font-family='"Liberation Sans", sans-serif' font-size="15.2" text-anchor="middle" fill="#1c1c1c">0</text>
<text transform="translate(838.70,126.34) scale(1,1.09)" font-family='"Liberation Sans", sans-serif' font-size="9.2" text-anchor="middle" fill="#1c1c1c">−</text>
<text transform="translate(846.75,126.34) scale(1,1.09)" font-family='"Liberation Sans", sans-serif' font-size="9.2" text-anchor="middle" fill="#1c1c1c">2</text>
<line x1="856.10" y1="176.48" x2="861.4" y2="176.48" stroke="#1a1a1a" stroke-width="1.3"/>
<text transform="translate(822.10,182.88) scale(1,1.09)" font-family='"Liberation Sans", sans-serif' font-size="15.2" text-anchor="middle" fill="#1c1c1c">1</text>
<text transform="translate(830.40,182.88) scale(1,1.09)" font-family='"Liberation Sans", sans-serif' font-size="15.2" text-anchor="middle" fill="#1c1c1c">0</text>
<text transform="translate(838.70,177.28) scale(1,1.09)" font-family='"Liberation Sans", sans-serif' font-size="9.2" text-anchor="middle" fill="#1c1c1c">−</text>
<text transform="translate(846.75,177.28) scale(1,1.09)" font-family='"Liberation Sans", sans-serif' font-size="9.2" text-anchor="middle" fill="#1c1c1c">4</text>
<line x1="856.10" y1="227.42" x2="861.4" y2="227.42" stroke="#1a1a1a" stroke-width="1.3"/>
<text transform="translate(822.10,233.82) scale(1,1.09)" font-family='"Liberation Sans", sans-serif' font-size="15.2" text-anchor="middle" fill="#1c1c1c">1</text>
<text transform="translate(830.40,233.82) scale(1,1.09)" font-family='"Liberation Sans", sans-serif' font-size="15.2" text-anchor="middle" fill="#1c1c1c">0</text>
<text transform="translate(838.70,228.22) scale(1,1.09)" font-family='"Liberation Sans", sans-serif' font-size="9.2" text-anchor="middle" fill="#1c1c1c">−</text>
<text transform="translate(846.75,228.22) scale(1,1.09)" font-family='"Liberation Sans", sans-serif' font-size="9.2" text-anchor="middle" fill="#1c1c1c">6</text>
<text transform="translate(1033.00,28.40) scale(1,1.09)" font-family='"Liberation Sans", sans-serif' font-size="16.8" text-anchor="middle" fill="#1c1c1c" textLength="156" lengthAdjust="spacingAndGlyphs" >Variance Estimate</text>
<text transform="translate(1033.90,301.00) scale(1,1.09)" font-family='"Liberation Sans", sans-serif' font-size="13.9" text-anchor="middle" fill="#1c1c1c" textLength="91" lengthAdjust="spacingAndGlyphs" >n-step value</text>
<rect x="1237.4" y="46.5" width="128.5" height="154.0" rx="2.5" fill="#fff" stroke="#cccccc" stroke-width="1.3"/>
<text transform="translate(1300.80,64.00) scale(1,1.09)" font-family='"Liberation Sans", sans-serif' font-size="13.9" text-anchor="middle" fill="#1c1c1c" textLength="115.1" lengthAdjust="spacingAndGlyphs" ># of Trajectories</text>
<path d="M1263.2,79.7L1292.2,79.7" stroke="#0000ff" stroke-width="1.95" fill="none"/>
<circle cx="1277.9" cy="79.7" r="3.0" fill="#0000ff"/>
<text transform="translate(1303.90,85.60) scale(1,1.09)" font-family='"Liberation Sans", sans-serif' font-size="14.8" text-anchor="start" fill="#1c1c1c" textLength="25.0" lengthAdjust="spacingAndGlyphs" >256</text>
<path d="M1263.2,101.2L1292.2,101.2" stroke="#ffa500" stroke-width="1.95" fill="none" stroke-dasharray="7.7,3.3"/>
<path d="M1277.9,101.2L1277.9,106.2M1277.9,101.2L1273.6,98.7M1277.9,101.2L1282.2,98.7" stroke="#ffa500" stroke-width="1.4" fill="none"/>
<text transform="translate(1303.90,107.10) scale(1,1.09)" font-family='"Liberation Sans", sans-serif' font-size="14.8" text-anchor="start" fill="#1c1c1c" textLength="25.0" lengthAdjust="spacingAndGlyphs" >512</text>
<path d="M1263.2,122.7L1292.2,122.7" stroke="#008000" stroke-width="1.95" fill="none" stroke-dasharray="13.3,3.3,2.1,3.3"/>
<path d="M1277.9,122.7L1277.9,130.5" stroke="#008000" stroke-width="1.5" fill="none"/>
<text transform="translate(1303.90,128.60) scale(1,1.09)" font-family='"Liberation Sans", sans-serif' font-size="14.8" text-anchor="start" fill="#1c1c1c" textLength="33.4" lengthAdjust="spacingAndGlyphs" >1024</text>
<path d="M1263.2,144.2L1292.2,144.2" stroke="#ff0000" stroke-width="1.95" fill="none" stroke-dasharray="2.1,3.4"/>
<path d="M1274.0,140.3L1281.8,148.1M1274.0,148.1L1281.8,140.3" stroke="#ff0000" stroke-width="1.35" fill="none"/>
<text transform="translate(1303.90,150.10) scale(1,1.09)" font-family='"Liberation Sans", sans-serif' font-size="14.8" text-anchor="start" fill="#1c1c1c" textLength="33.4" lengthAdjust="spacingAndGlyphs" >2048</text>
<path d="M1263.2,165.7L1292.2,165.7" stroke="#800080" stroke-width="1.95" fill="none" stroke-dasharray="13.3,3.3,2.1,3.3"/>
<path d="M1277.9,165.7L1274.1,165.7M1277.9,165.7L1279.8,162.4M1277.9,165.7L1279.8,169.0" stroke="#800080" stroke-width="1.4" fill="none"/>
<text transform="translate(1303.90,171.60) scale(1,1.09)" font-family='"Liberation Sans", sans-serif' font-size="14.8" text-anchor="start" fill="#1c1c1c" textLength="33.4" lengthAdjust="spacingAndGlyphs" >4096</text>
<path d="M1263.2,187.2L1292.2,187.2" stroke="#00bfbf" stroke-width="1.95" fill="none" stroke-dasharray="7.7,3.3"/>
<path d="M1273.9,187.2L1281.9,182.5L1281.9,191.9Z" fill="#00bfbf"/>
<text transform="translate(1303.90,193.10) scale(1,1.09)" font-family='"Liberation Sans", sans-serif' font-size="14.8" text-anchor="start" fill="#1c1c1c" textLength="33.4" lengthAdjust="spacingAndGlyphs" >8192</text>
<clipPath id="c4"><rect x="48.5" y="434.3" width="349.6" height="225.59999999999997"/></clipPath><g clip-path="url(#c4)">
<polygon points="64.2,447.0 99.6,494.0 134.9,500.0 170.2,497.0 205.6,490.5 240.9,475.0 276.3,466.4 311.7,462.0 347.0,459.2 382.4,456.5 382.4,486.9 347.0,489.0 311.7,490.5 276.3,491.3 240.9,500.0 205.6,511.0 170.2,524.0 134.9,527.0 99.6,516.0 64.2,458.0" fill="#1f77b4" fill-opacity="0.25" stroke="none"/>
<polygon points="64.2,450.0 99.6,510.0 134.9,528.0 170.2,526.0 205.6,515.3 240.9,502.9 276.3,496.0 311.7,495.2 347.0,500.1 382.4,503.7 382.4,522.2 347.0,518.0 311.7,512.6 276.3,514.0 240.9,523.6 205.6,536.0 170.2,550.0 134.9,553.0 99.6,531.0 64.2,459.0" fill="#ff7f0e" fill-opacity="0.25" stroke="none"/>
<polygon points="64.2,458.0 99.6,539.0 134.9,575.0 170.2,577.0 205.6,570.6 240.9,566.4 276.3,565.9 311.7,570.6 347.0,580.3 382.4,585.8 382.4,602.9 347.0,596.8 311.7,585.8 276.3,579.7 240.9,580.3 205.6,585.8 170.2,592.0 134.9,589.0 99.6,552.0 64.2,468.0" fill="#2ca02c" fill-opacity="0.25" stroke="none"/>
<polygon points="64.2,466.0 99.6,553.0 134.9,588.0 170.2,590.0 205.6,585.0 240.9,581.6 276.3,583.0 311.7,595.5 347.0,617.6 382.4,639.0 382.4,649.0 347.0,627.8 311.7,604.6 276.3,591.9 240.9,589.0 205.6,592.7 170.2,600.0 134.9,597.0 99.6,562.0 64.2,475.0" fill="#d62728" fill-opacity="0.25" stroke="none"/>
<path d="M64.2,452.6L99.6,505.3L134.9,513.7L170.2,510.5L205.6,500.7L240.9,487.7L276.3,478.9L311.7,476.1L347.0,474.7L382.4,470.6" fill="none" stroke="#0000ff" stroke-width="1.9" stroke-linejoin="round"/>
<path d="M64.2,446.2L70.6,452.6L64.2,459.0L57.8,452.6Z" fill="#0000ff"/>
<path d="M99.6,498.9L106.0,505.3L99.6,511.7L93.2,505.3Z" fill="#0000ff"/>
<path d="M134.9,507.3L141.3,513.7L134.9,520.1L128.5,513.7Z" fill="#0000ff"/>
<path d="M170.2,504.1L176.7,510.5L170.2,516.9L163.8,510.5Z" fill="#0000ff"/>
<path d="M205.6,494.3L212.0,500.7L205.6,507.1L199.2,500.7Z" fill="#0000ff"/>
<path d="M240.9,481.3L247.3,487.7L240.9,494.1L234.5,487.7Z" fill="#0000ff"/>
<path d="M276.3,472.5L282.7,478.9L276.3,485.3L269.9,478.9Z" fill="#0000ff"/>
<path d="M311.7,469.7L318.1,476.1L311.7,482.5L305.3,476.1Z" fill="#0000ff"/>
<path d="M347.0,468.3L353.4,474.7L347.0,481.1L340.6,474.7Z" fill="#0000ff"/>
<path d="M382.4,464.2L388.8,470.6L382.4,477.0L376.0,470.6Z" fill="#0000ff"/>
<path d="M64.2,454.7L99.6,520.4L134.9,540.6L170.2,537.9L205.6,525.0L240.9,513.4L276.3,504.3L311.7,502.9L347.0,509.0L382.4,513.4" fill="none" stroke="#ffa500" stroke-width="1.9" stroke-linejoin="round" stroke-dasharray="7.7,3.3"/>
<polygon points="64.2,450.3 69.0,453.8 67.1,459.3 61.3,459.3 59.4,453.8" fill="#ffa500"/>
<polygon points="99.6,516.0 104.3,519.5 102.5,525.0 96.6,525.0 94.8,519.5" fill="#ffa500"/>
<polygon points="134.9,536.2 139.7,539.7 137.8,545.2 132.0,545.2 130.1,539.7" fill="#ffa500"/>
<polygon points="170.2,533.5 175.0,537.0 173.2,542.5 167.3,542.5 165.5,537.0" fill="#ffa500"/>
<polygon points="205.6,520.6 210.4,524.1 208.5,529.6 202.7,529.6 200.8,524.1" fill="#ffa500"/>
<polygon points="240.9,509.0 245.7,512.5 243.9,518.0 238.0,518.0 236.2,512.5" fill="#ffa500"/>
<polygon points="276.3,499.9 281.1,503.4 279.2,508.9 273.4,508.9 271.5,503.4" fill="#ffa500"/>
<polygon points="311.7,498.5 316.4,502.0 314.6,507.5 308.7,507.5 306.9,502.0" fill="#ffa500"/>
<polygon points="347.0,504.6 351.8,508.1 349.9,513.6 344.1,513.6 342.2,508.1" fill="#ffa500"/>
<polygon points="382.4,509.0 387.1,512.5 385.3,518.0 379.4,518.0 377.6,512.5" fill="#ffa500"/>
<path d="M64.2,463.0L99.6,545.5L134.9,581.8L170.2,584.5L205.6,578.9L240.9,572.5L276.3,572.8L311.7,578.9L347.0,590.8L382.4,596.3" fill="none" stroke="#008000" stroke-width="1.9" stroke-linejoin="round" stroke-dasharray="13.3,3.3,2.1,3.3"/>
<polygon points="61.7,458.0 64.2,460.5 66.7,458.0 69.2,460.5 66.7,463.0 69.2,465.5 66.7,468.0 64.2,465.5 61.7,468.0 59.2,465.5 61.7,463.0 59.2,460.5" fill="#008000" stroke="#008000" stroke-width="0.8" stroke-linejoin="round"/>
<polygon points="97.1,540.5 99.6,543.0 102.1,540.5 104.6,543.0 102.1,545.5 104.6,548.0 102.1,550.5 99.6,548.0 97.1,550.5 94.6,548.0 97.1,545.5 94.6,543.0" fill="#008000" stroke="#008000" stroke-width="0.8" stroke-linejoin="round"/>
<polygon points="132.4,576.8 134.9,579.3 137.4,576.8 139.9,579.3 137.4,581.8 139.9,584.3 137.4,586.8 134.9,584.3 132.4,586.8 129.9,584.3 132.4,581.8 129.9,579.3" fill="#008000" stroke="#008000" stroke-width="0.8" stroke-linejoin="round"/>
<polygon points="167.8,579.5 170.2,582.0 172.8,579.5 175.2,582.0 172.8,584.5 175.2,587.0 172.8,589.5 170.2,587.0 167.8,589.5 165.2,587.0 167.8,584.5 165.2,582.0" fill="#008000" stroke="#008000" stroke-width="0.8" stroke-linejoin="round"/>
<polygon points="203.1,573.9 205.6,576.4 208.1,573.9 210.6,576.4 208.1,578.9 210.6,581.4 208.1,583.9 205.6,581.4 203.1,583.9 200.6,581.4 203.1,578.9 200.6,576.4" fill="#008000" stroke="#008000" stroke-width="0.8" stroke-linejoin="round"/>
<polygon points="238.4,567.5 240.9,570.0 243.4,567.5 245.9,570.0 243.4,572.5 245.9,575.0 243.4,577.5 240.9,575.0 238.4,577.5 235.9,575.0 238.4,572.5 235.9,570.0" fill="#008000" stroke="#008000" stroke-width="0.8" stroke-linejoin="round"/>
<polygon points="273.8,567.8 276.3,570.3 278.8,567.8 281.3,570.3 278.8,572.8 281.3,575.3 278.8,577.8 276.3,575.3 273.8,577.8 271.3,575.3 273.8,572.8 271.3,570.3" fill="#008000" stroke="#008000" stroke-width="0.8" stroke-linejoin="round"/>
<polygon points="309.2,573.9 311.7,576.4 314.2,573.9 316.7,576.4 314.2,578.9 316.7,581.4 314.2,583.9 311.7,581.4 309.2,583.9 306.7,581.4 309.2,578.9 306.7,576.4" fill="#008000" stroke="#008000" stroke-width="0.8" stroke-linejoin="round"/>
<polygon points="344.5,585.8 347.0,588.3 349.5,585.8 352.0,588.3 349.5,590.8 352.0,593.3 349.5,595.8 347.0,593.3 344.5,595.8 342.0,593.3 344.5,590.8 342.0,588.3" fill="#008000" stroke="#008000" stroke-width="0.8" stroke-linejoin="round"/>
<polygon points="379.9,591.3 382.4,593.8 384.9,591.3 387.4,593.8 384.9,596.3 387.4,598.8 384.9,601.3 382.4,598.8 379.9,601.3 377.4,598.8 379.9,596.3 377.4,593.8" fill="#008000" stroke="#008000" stroke-width="0.8" stroke-linejoin="round"/>
<path d="M64.2,470.5L99.6,557.4L134.9,592.4L170.2,595.0L205.6,589.1L240.9,584.8L276.3,587.8L311.7,599.6L347.0,622.3L382.4,644.4" fill="none" stroke="#ff0000" stroke-width="1.9" stroke-linejoin="round" stroke-dasharray="2.1,3.4"/>
<path d="M69.0,470.5L59.4,465.7L59.4,475.3Z" fill="#ff0000"/>
<path d="M104.4,557.4L94.8,552.6L94.8,562.2Z" fill="#ff0000"/>
<path d="M139.7,592.4L130.1,587.6L130.1,597.2Z" fill="#ff0000"/>
<path d="M175.1,595.0L165.4,590.2L165.4,599.8Z" fill="#ff0000"/>
<path d="M210.4,589.1L200.8,584.3L200.8,593.9Z" fill="#ff0000"/>
<path d="M245.8,584.8L236.1,580.0L236.1,589.6Z" fill="#ff0000"/>
<path d="M281.1,587.8L271.5,583.0L271.5,592.6Z" fill="#ff0000"/>
<path d="M316.5,599.6L306.9,594.8L306.9,604.4Z" fill="#ff0000"/>
<path d="M351.8,622.3L342.2,617.5L342.2,627.1Z" fill="#ff0000"/>
<path d="M387.2,644.4L377.6,639.6L377.6,649.2Z" fill="#ff0000"/>
</g>
<rect x="48.5" y="434.3" width="349.6" height="225.59999999999997" fill="none" stroke="#1a1a1a" stroke-width="1.4"/>
<line x1="64.2" y1="659.9" x2="64.2" y2="665.9" stroke="#1a1a1a" stroke-width="1.3"/>
<text transform="translate(64.20,681.10) scale(1,1.09)" font-family='"Liberation Sans", sans-serif' font-size="15.0" text-anchor="middle" fill="#1c1c1c" textLength="8.5" lengthAdjust="spacingAndGlyphs" >0</text>
<line x1="134.9" y1="659.9" x2="134.9" y2="665.9" stroke="#1a1a1a" stroke-width="1.3"/>
<text transform="translate(134.90,681.10) scale(1,1.09)" font-family='"Liberation Sans", sans-serif' font-size="15.0" text-anchor="middle" fill="#1c1c1c" textLength="17.0" lengthAdjust="spacingAndGlyphs" >20</text>
<line x1="205.60000000000002" y1="659.9" x2="205.60000000000002" y2="665.9" stroke="#1a1a1a" stroke-width="1.3"/>
<text transform="translate(205.60,681.10) scale(1,1.09)" font-family='"Liberation Sans", sans-serif' font-size="15.0" text-anchor="middle" fill="#1c1c1c" textLength="17.0" lengthAdjust="spacingAndGlyphs" >40</text>
<line x1="276.3" y1="659.9" x2="276.3" y2="665.9" stroke="#1a1a1a" stroke-width="1.3"/>
<text transform="translate(276.30,681.10) scale(1,1.09)" font-family='"Liberation Sans", sans-serif' font-size="15.0" text-anchor="middle" fill="#1c1c1c" textLength="17.0" lengthAdjust="spacingAndGlyphs" >60</text>
<line x1="347.0" y1="659.9" x2="347.0" y2="665.9" stroke="#1a1a1a" stroke-width="1.3"/>
<text transform="translate(347.00,681.10) scale(1,1.09)" font-family='"Liberation Sans", sans-serif' font-size="15.0" text-anchor="middle" fill="#1c1c1c" textLength="17.0" lengthAdjust="spacingAndGlyphs" >80</text>
<line x1="43.20" y1="515.40" x2="48.5" y2="515.40" stroke="#1a1a1a" stroke-width="1.3"/>
<line x1="45.30" y1="654.70" x2="48.5" y2="654.70" stroke="#1a1a1a" stroke-width="1.05"/>
<line x1="45.30" y1="619.61" x2="48.5" y2="619.61" stroke="#1a1a1a" stroke-width="1.05"/>
<line x1="45.30" y1="594.71" x2="48.5" y2="594.71" stroke="#1a1a1a" stroke-width="1.05"/>
<line x1="45.30" y1="575.40" x2="48.5" y2="575.40" stroke="#1a1a1a" stroke-width="1.05"/>
<line x1="45.30" y1="559.61" x2="48.5" y2="559.61" stroke="#1a1a1a" stroke-width="1.05"/>
<line x1="45.30" y1="546.27" x2="48.5" y2="546.27" stroke="#1a1a1a" stroke-width="1.05"/>
<line x1="45.30" y1="534.71" x2="48.5" y2="534.71" stroke="#1a1a1a" stroke-width="1.05"/>
<line x1="45.30" y1="524.52" x2="48.5" y2="524.52" stroke="#1a1a1a" stroke-width="1.05"/>
<line x1="45.30" y1="455.40" x2="48.5" y2="455.40" stroke="#1a1a1a" stroke-width="1.05"/>
<text transform="translate(17.10,521.80) scale(1,1.09)" font-family='"Liberation Sans", sans-serif' font-size="15.2" text-anchor="middle" fill="#1c1c1c">1</text>
<text transform="translate(25.60,521.80) scale(1,1.09)" font-family='"Liberation Sans", sans-serif' font-size="15.2" text-anchor="middle" fill="#1c1c1c">0</text>
<text transform="translate(33.10,516.20) scale(1,1.09)" font-family='"Liberation Sans", sans-serif' font-size="9.2" text-anchor="middle" fill="#1c1c1c">1</text>
<text transform="translate(223.00,424.90) scale(1,1.09)" font-family='"Liberation Sans", sans-serif' font-size="16.8" text-anchor="middle" fill="#1c1c1c" textLength="35.7" lengthAdjust="spacingAndGlyphs" >MSE</text>
<text transform="translate(222.00,701.00) scale(1,1.09)" font-family='"Liberation Sans", sans-serif' font-size="13.9" text-anchor="middle" fill="#1c1c1c" textLength="91" lengthAdjust="spacingAndGlyphs" >n-step value</text>
<clipPath id="c5"><rect x="458.9" y="434.3" width="351.6" height="225.59999999999997"/></clipPath><g clip-path="url(#c5)">
<path d="M474.9,455.2L510.3,492.2L545.7,507.0L581.1,511.2L616.5,511.5L651.9,515.8L687.4,523.0L722.8,540.0L758.2,587.9L793.6,650.3" fill="none" stroke="#0000ff" stroke-width="1.9" stroke-linejoin="round"/>
<path d="M474.9,448.8L481.3,455.2L474.9,461.6L468.5,455.2Z" fill="#0000ff"/>
<path d="M510.3,485.8L516.7,492.2L510.3,498.6L503.9,492.2Z" fill="#0000ff"/>
<path d="M545.7,500.6L552.1,507.0L545.7,513.4L539.3,507.0Z" fill="#0000ff"/>
<path d="M581.1,504.8L587.5,511.2L581.1,517.6L574.7,511.2Z" fill="#0000ff"/>
<path d="M616.5,505.1L622.9,511.5L616.5,517.9L610.1,511.5Z" fill="#0000ff"/>
<path d="M651.9,509.4L658.3,515.8L651.9,522.2L645.5,515.8Z" fill="#0000ff"/>
<path d="M687.4,516.6L693.8,523.0L687.4,529.4L681.0,523.0Z" fill="#0000ff"/>
<path d="M722.8,533.6L729.2,540.0L722.8,546.4L716.4,540.0Z" fill="#0000ff"/>
<path d="M758.2,581.5L764.6,587.9L758.2,594.3L751.8,587.9Z" fill="#0000ff"/>
<path d="M793.6,643.9L800.0,650.3L793.6,656.7L787.2,650.3Z" fill="#0000ff"/>
<path d="M474.9,444.2L510.3,478.3L545.7,490.5L581.1,493.3L616.5,492.8L651.9,494.6L687.4,497.4L722.8,506.2L758.2,528.7L793.6,592.4" fill="none" stroke="#ffa500" stroke-width="1.9" stroke-linejoin="round" stroke-dasharray="7.7,3.3"/>
<polygon points="474.9,439.8 479.7,443.3 477.8,448.8 472.0,448.8 470.1,443.3" fill="#ffa500"/>
<polygon points="510.3,473.9 515.1,477.4 513.2,482.9 507.4,482.9 505.6,477.4" fill="#ffa500"/>
<polygon points="545.7,486.1 550.5,489.6 548.7,495.1 542.8,495.1 541.0,489.6" fill="#ffa500"/>
<polygon points="581.1,488.9 585.9,492.4 584.1,497.9 578.2,497.9 576.4,492.4" fill="#ffa500"/>
<polygon points="616.5,488.4 621.3,491.9 619.5,497.4 613.6,497.4 611.8,491.9" fill="#ffa500"/>
<polygon points="651.9,490.2 656.7,493.7 654.9,499.2 649.0,499.2 647.2,493.7" fill="#ffa500"/>
<polygon points="687.4,493.0 692.1,496.5 690.3,502.0 684.4,502.0 682.6,496.5" fill="#ffa500"/>
<polygon points="722.8,501.8 727.5,505.3 725.7,510.8 719.8,510.8 718.0,505.3" fill="#ffa500"/>
<polygon points="758.2,524.3 762.9,527.8 761.1,533.3 755.2,533.3 753.4,527.8" fill="#ffa500"/>
<polygon points="793.6,588.0 798.3,591.5 796.5,597.0 790.7,597.0 788.8,591.5" fill="#ffa500"/>
<path d="M474.9,443.2L510.3,476.8L545.7,495.8L581.1,500.6L616.5,502.0L651.9,504.4L687.4,508.4L722.8,519.9L758.2,547.1L793.6,641.6" fill="none" stroke="#008000" stroke-width="1.9" stroke-linejoin="round" stroke-dasharray="13.3,3.3,2.1,3.3"/>
<polygon points="472.4,438.2 474.9,440.7 477.4,438.2 479.9,440.7 477.4,443.2 479.9,445.7 477.4,448.2 474.9,445.7 472.4,448.2 469.9,445.7 472.4,443.2 469.9,440.7" fill="#008000" stroke="#008000" stroke-width="0.8" stroke-linejoin="round"/>
<polygon points="507.8,471.8 510.3,474.3 512.8,471.8 515.3,474.3 512.8,476.8 515.3,479.3 512.8,481.8 510.3,479.3 507.8,481.8 505.3,479.3 507.8,476.8 505.3,474.3" fill="#008000" stroke="#008000" stroke-width="0.8" stroke-linejoin="round"/>
<polygon points="543.2,490.8 545.7,493.3 548.2,490.8 550.7,493.3 548.2,495.8 550.7,498.3 548.2,500.8 545.7,498.3 543.2,500.8 540.7,498.3 543.2,495.8 540.7,493.3" fill="#008000" stroke="#008000" stroke-width="0.8" stroke-linejoin="round"/>
<polygon points="578.6,495.6 581.1,498.1 583.6,495.6 586.1,498.1 583.6,500.6 586.1,503.1 583.6,505.6 581.1,503.1 578.6,505.6 576.1,503.1 578.6,500.6 576.1,498.1" fill="#008000" stroke="#008000" stroke-width="0.8" stroke-linejoin="round"/>
<polygon points="614.0,497.0 616.5,499.5 619.0,497.0 621.5,499.5 619.0,502.0 621.5,504.5 619.0,507.0 616.5,504.5 614.0,507.0 611.5,504.5 614.0,502.0 611.5,499.5" fill="#008000" stroke="#008000" stroke-width="0.8" stroke-linejoin="round"/>
<polygon points="649.4,499.4 651.9,501.9 654.4,499.4 656.9,501.9 654.4,504.4 656.9,506.9 654.4,509.4 651.9,506.9 649.4,509.4 646.9,506.9 649.4,504.4 646.9,501.9" fill="#008000" stroke="#008000" stroke-width="0.8" stroke-linejoin="round"/>
<polygon points="684.9,503.4 687.4,505.9 689.9,503.4 692.4,505.9 689.9,508.4 692.4,510.9 689.9,513.4 687.4,510.9 684.9,513.4 682.4,510.9 684.9,508.4 682.4,505.9" fill="#008000" stroke="#008000" stroke-width="0.8" stroke-linejoin="round"/>
<polygon points="720.3,514.9 722.8,517.4 725.3,514.9 727.8,517.4 725.3,519.9 727.8,522.4 725.3,524.9 722.8,522.4 720.3,524.9 717.8,522.4 720.3,519.9 717.8,517.4" fill="#008000" stroke="#008000" stroke-width="0.8" stroke-linejoin="round"/>
<polygon points="755.7,542.1 758.2,544.6 760.7,542.1 763.2,544.6 760.7,547.1 763.2,549.6 760.7,552.1 758.2,549.6 755.7,552.1 753.2,549.6 755.7,547.1 753.2,544.6" fill="#008000" stroke="#008000" stroke-width="0.8" stroke-linejoin="round"/>
<polygon points="791.1,636.6 793.6,639.1 796.1,636.6 798.6,639.1 796.1,641.6 798.6,644.1 796.1,646.6 793.6,644.1 791.1,646.6 788.6,644.1 791.1,641.6 788.6,639.1" fill="#008000" stroke="#008000" stroke-width="0.8" stroke-linejoin="round"/>
<path d="M474.9,445.9L510.3,479.6L545.7,493.7L581.1,496.4L616.5,496.5L651.9,498.3L687.4,501.1L722.8,510.3L758.2,532.4L793.6,595.0" fill="none" stroke="#ff0000" stroke-width="1.9" stroke-linejoin="round" stroke-dasharray="2.1,3.4"/>
<path d="M479.7,445.9L470.1,441.1L470.1,450.7Z" fill="#ff0000"/>
<path d="M515.1,479.6L505.5,474.8L505.5,484.4Z" fill="#ff0000"/>
<path d="M550.5,493.7L540.9,488.9L540.9,498.5Z" fill="#ff0000"/>
<path d="M585.9,496.4L576.3,491.6L576.3,501.2Z" fill="#ff0000"/>
<path d="M621.3,496.5L611.7,491.7L611.7,501.3Z" fill="#ff0000"/>
<path d="M656.7,498.3L647.1,493.5L647.1,503.1Z" fill="#ff0000"/>
<path d="M692.2,501.1L682.6,496.3L682.6,505.9Z" fill="#ff0000"/>
<path d="M727.6,510.3L718.0,505.5L718.0,515.1Z" fill="#ff0000"/>
<path d="M763.0,532.4L753.4,527.6L753.4,537.2Z" fill="#ff0000"/>
<path d="M798.4,595.0L788.8,590.2L788.8,599.8Z" fill="#ff0000"/>
</g>
<rect x="458.9" y="434.3" width="351.6" height="225.59999999999997" fill="none" stroke="#1a1a1a" stroke-width="1.4"/>
<line x1="474.9" y1="659.9" x2="474.9" y2="665.9" stroke="#1a1a1a" stroke-width="1.3"/>
<text transform="translate(474.90,681.10) scale(1,1.09)" font-family='"Liberation Sans", sans-serif' font-size="15.0" text-anchor="middle" fill="#1c1c1c" textLength="8.5" lengthAdjust="spacingAndGlyphs" >0</text>
<line x1="545.72" y1="659.9" x2="545.72" y2="665.9" stroke="#1a1a1a" stroke-width="1.3"/>
<text transform="translate(545.72,681.10) scale(1,1.09)" font-family='"Liberation Sans", sans-serif' font-size="15.0" text-anchor="middle" fill="#1c1c1c" textLength="17.0" lengthAdjust="spacingAndGlyphs" >20</text>
<line x1="616.54" y1="659.9" x2="616.54" y2="665.9" stroke="#1a1a1a" stroke-width="1.3"/>
<text transform="translate(616.54,681.10) scale(1,1.09)" font-family='"Liberation Sans", sans-serif' font-size="15.0" text-anchor="middle" fill="#1c1c1c" textLength="17.0" lengthAdjust="spacingAndGlyphs" >40</text>
<line x1="687.3599999999999" y1="659.9" x2="687.3599999999999" y2="665.9" stroke="#1a1a1a" stroke-width="1.3"/>
<text transform="translate(687.36,681.10) scale(1,1.09)" font-family='"Liberation Sans", sans-serif' font-size="15.0" text-anchor="middle" fill="#1c1c1c" textLength="17.0" lengthAdjust="spacingAndGlyphs" >60</text>
<line x1="758.18" y1="659.9" x2="758.18" y2="665.9" stroke="#1a1a1a" stroke-width="1.3"/>
<text transform="translate(758.18,681.10) scale(1,1.09)" font-family='"Liberation Sans", sans-serif' font-size="15.0" text-anchor="middle" fill="#1c1c1c" textLength="17.0" lengthAdjust="spacingAndGlyphs" >80</text>
<line x1="453.60" y1="465.90" x2="458.9" y2="465.90" stroke="#1a1a1a" stroke-width="1.3"/>
<text transform="translate(427.50,472.30) scale(1,1.09)" font-family='"Liberation Sans", sans-serif' font-size="15.2" text-anchor="middle" fill="#1c1c1c">1</text>
<text transform="translate(436.00,472.30) scale(1,1.09)" font-family='"Liberation Sans", sans-serif' font-size="15.2" text-anchor="middle" fill="#1c1c1c">0</text>
<text transform="translate(443.50,466.70) scale(1,1.09)" font-family='"Liberation Sans", sans-serif' font-size="9.2" text-anchor="middle" fill="#1c1c1c">1</text>
<line x1="453.60" y1="542.60" x2="458.9" y2="542.60" stroke="#1a1a1a" stroke-width="1.3"/>
<text transform="translate(427.50,549.00) scale(1,1.09)" font-family='"Liberation Sans", sans-serif' font-size="15.2" text-anchor="middle" fill="#1c1c1c">1</text>
<text transform="translate(436.00,549.00) scale(1,1.09)" font-family='"Liberation Sans", sans-serif' font-size="15.2" text-anchor="middle" fill="#1c1c1c">0</text>
<text transform="translate(443.50,543.40) scale(1,1.09)" font-family='"Liberation Sans", sans-serif' font-size="9.2" text-anchor="middle" fill="#1c1c1c">0</text>
<line x1="453.60" y1="619.30" x2="458.9" y2="619.30" stroke="#1a1a1a" stroke-width="1.3"/>
<text transform="translate(419.60,625.70) scale(1,1.09)" font-family='"Liberation Sans", sans-serif' font-size="15.2" text-anchor="middle" fill="#1c1c1c">1</text>
<text transform="translate(427.90,625.70) scale(1,1.09)" font-family='"Liberation Sans", sans-serif' font-size="15.2" text-anchor="middle" fill="#1c1c1c">0</text>
<text transform="translate(436.20,620.10) scale(1,1.09)" font-family='"Liberation Sans", sans-serif' font-size="9.2" text-anchor="middle" fill="#1c1c1c">−</text>
<text transform="translate(444.25,620.10) scale(1,1.09)" font-family='"Liberation Sans", sans-serif' font-size="9.2" text-anchor="middle" fill="#1c1c1c">1</text>
<line x1="455.70" y1="442.81" x2="458.9" y2="442.81" stroke="#1a1a1a" stroke-width="1.05"/>
<line x1="455.70" y1="519.51" x2="458.9" y2="519.51" stroke="#1a1a1a" stroke-width="1.05"/>
<line x1="455.70" y1="506.00" x2="458.9" y2="506.00" stroke="#1a1a1a" stroke-width="1.05"/>
<line x1="455.70" y1="496.42" x2="458.9" y2="496.42" stroke="#1a1a1a" stroke-width="1.05"/>
<line x1="455.70" y1="488.99" x2="458.9" y2="488.99" stroke="#1a1a1a" stroke-width="1.05"/>
<line x1="455.70" y1="482.92" x2="458.9" y2="482.92" stroke="#1a1a1a" stroke-width="1.05"/>
<line x1="455.70" y1="477.78" x2="458.9" y2="477.78" stroke="#1a1a1a" stroke-width="1.05"/>
<line x1="455.70" y1="473.33" x2="458.9" y2="473.33" stroke="#1a1a1a" stroke-width="1.05"/>
<line x1="455.70" y1="469.41" x2="458.9" y2="469.41" stroke="#1a1a1a" stroke-width="1.05"/>
<line x1="455.70" y1="596.21" x2="458.9" y2="596.21" stroke="#1a1a1a" stroke-width="1.05"/>
<line x1="455.70" y1="582.70" x2="458.9" y2="582.70" stroke="#1a1a1a" stroke-width="1.05"/>
<line x1="455.70" y1="573.12" x2="458.9" y2="573.12" stroke="#1a1a1a" stroke-width="1.05"/>
<line x1="455.70" y1="565.69" x2="458.9" y2="565.69" stroke="#1a1a1a" stroke-width="1.05"/>
<line x1="455.70" y1="559.62" x2="458.9" y2="559.62" stroke="#1a1a1a" stroke-width="1.05"/>
<line x1="455.70" y1="554.48" x2="458.9" y2="554.48" stroke="#1a1a1a" stroke-width="1.05"/>
<line x1="455.70" y1="550.03" x2="458.9" y2="550.03" stroke="#1a1a1a" stroke-width="1.05"/>
<line x1="455.70" y1="546.11" x2="458.9" y2="546.11" stroke="#1a1a1a" stroke-width="1.05"/>
<line x1="455.70" y1="659.40" x2="458.9" y2="659.40" stroke="#1a1a1a" stroke-width="1.05"/>
<line x1="455.70" y1="649.82" x2="458.9" y2="649.82" stroke="#1a1a1a" stroke-width="1.05"/>
<line x1="455.70" y1="642.39" x2="458.9" y2="642.39" stroke="#1a1a1a" stroke-width="1.05"/>
<line x1="455.70" y1="636.32" x2="458.9" y2="636.32" stroke="#1a1a1a" stroke-width="1.05"/>
<line x1="455.70" y1="631.18" x2="458.9" y2="631.18" stroke="#1a1a1a" stroke-width="1.05"/>
<line x1="455.70" y1="626.73" x2="458.9" y2="626.73" stroke="#1a1a1a" stroke-width="1.05"/>
<line x1="455.70" y1="622.81" x2="458.9" y2="622.81" stroke="#1a1a1a" stroke-width="1.05"/>
<text transform="translate(632.60,424.90) scale(1,1.09)" font-family='"Liberation Sans", sans-serif' font-size="16.8" text-anchor="middle" fill="#1c1c1c" textLength="197.2" lengthAdjust="spacingAndGlyphs" >Bias Squared Estimate</text>
<text transform="translate(634.50,701.00) scale(1,1.09)" font-family='"Liberation Sans", sans-serif' font-size="13.9" text-anchor="middle" fill="#1c1c1c" textLength="91" lengthAdjust="spacingAndGlyphs" >n-step value</text>
<clipPath id="c6"><rect x="871.3" y="434.3" width="349.70000000000005" height="225.59999999999997"/></clipPath><g clip-path="url(#c6)">
<path d="M886.8,488.0L922.2,493.3L957.5,492.0L992.9,486.3L1028.2,476.2L1063.6,463.2L1099.0,454.3L1134.3,448.8L1169.7,445.9L1205.0,444.6" fill="none" stroke="#0000ff" stroke-width="1.9" stroke-linejoin="round"/>
<path d="M886.8,481.6L893.2,488.0L886.8,494.4L880.4,488.0Z" fill="#0000ff"/>
<path d="M922.2,486.9L928.6,493.3L922.2,499.7L915.8,493.3Z" fill="#0000ff"/>
<path d="M957.5,485.6L963.9,492.0L957.5,498.4L951.1,492.0Z" fill="#0000ff"/>
<path d="M992.9,479.9L999.3,486.3L992.9,492.7L986.5,486.3Z" fill="#0000ff"/>
<path d="M1028.2,469.8L1034.6,476.2L1028.2,482.6L1021.8,476.2Z" fill="#0000ff"/>
<path d="M1063.6,456.8L1070.0,463.2L1063.6,469.6L1057.2,463.2Z" fill="#0000ff"/>
<path d="M1099.0,447.9L1105.4,454.3L1099.0,460.7L1092.6,454.3Z" fill="#0000ff"/>
<path d="M1134.3,442.4L1140.7,448.8L1134.3,455.2L1127.9,448.8Z" fill="#0000ff"/>
<path d="M1169.7,439.5L1176.1,445.9L1169.7,452.3L1163.3,445.9Z" fill="#0000ff"/>
<path d="M1205.0,438.2L1211.4,444.6L1205.0,451.0L1198.6,444.6Z" fill="#0000ff"/>
<path d="M886.8,537.9L922.2,542.5L957.5,539.5L992.9,531.0L1028.2,515.8L1063.6,500.4L1099.0,488.8L1134.3,481.7L1169.7,478.9L1205.0,477.5" fill="none" stroke="#ffa500" stroke-width="1.9" stroke-linejoin="round" stroke-dasharray="7.7,3.3"/>
<polygon points="886.8,533.5 891.6,537.0 889.7,542.5 883.9,542.5 882.0,537.0" fill="#ffa500"/>
<polygon points="922.2,538.1 926.9,541.6 925.1,547.1 919.2,547.1 917.4,541.6" fill="#ffa500"/>
<polygon points="957.5,535.1 962.3,538.6 960.5,544.1 954.6,544.1 952.8,538.6" fill="#ffa500"/>
<polygon points="992.9,526.6 997.6,530.1 995.8,535.6 989.9,535.6 988.1,530.1" fill="#ffa500"/>
<polygon points="1028.2,511.4 1033.0,514.9 1031.2,520.4 1025.3,520.4 1023.5,514.9" fill="#ffa500"/>
<polygon points="1063.6,496.0 1068.4,499.5 1066.5,505.0 1060.7,505.0 1058.8,499.5" fill="#ffa500"/>
<polygon points="1099.0,484.4 1103.7,487.9 1101.9,493.4 1096.0,493.4 1094.2,487.9" fill="#ffa500"/>
<polygon points="1134.3,477.3 1139.1,480.8 1137.3,486.3 1131.4,486.3 1129.6,480.8" fill="#ffa500"/>
<polygon points="1169.7,474.5 1174.4,478.0 1172.6,483.5 1166.7,483.5 1164.9,478.0" fill="#ffa500"/>
<polygon points="1205.0,473.1 1209.8,476.6 1208.0,482.1 1202.1,482.1 1200.3,476.6" fill="#ffa500"/>
<path d="M886.8,593.7L922.2,603.7L957.5,600.3L992.9,590.5L1028.2,576.6L1063.6,563.4L1099.0,554.7L1134.3,548.9L1169.7,544.5L1205.0,541.6" fill="none" stroke="#008000" stroke-width="1.9" stroke-linejoin="round" stroke-dasharray="13.3,3.3,2.1,3.3"/>
<polygon points="884.3,588.7 886.8,591.2 889.3,588.7 891.8,591.2 889.3,593.7 891.8,596.2 889.3,598.7 886.8,596.2 884.3,598.7 881.8,596.2 884.3,593.7 881.8,591.2" fill="#008000" stroke="#008000" stroke-width="0.8" stroke-linejoin="round"/>
<polygon points="919.7,598.7 922.2,601.2 924.7,598.7 927.2,601.2 924.7,603.7 927.2,606.2 924.7,608.7 922.2,606.2 919.7,608.7 917.2,606.2 919.7,603.7 917.2,601.2" fill="#008000" stroke="#008000" stroke-width="0.8" stroke-linejoin="round"/>
<polygon points="955.0,595.3 957.5,597.8 960.0,595.3 962.5,597.8 960.0,600.3 962.5,602.8 960.0,605.3 957.5,602.8 955.0,605.3 952.5,602.8 955.0,600.3 952.5,597.8" fill="#008000" stroke="#008000" stroke-width="0.8" stroke-linejoin="round"/>
<polygon points="990.4,585.5 992.9,588.0 995.4,585.5 997.9,588.0 995.4,590.5 997.9,593.0 995.4,595.5 992.9,593.0 990.4,595.5 987.9,593.0 990.4,590.5 987.9,588.0" fill="#008000" stroke="#008000" stroke-width="0.8" stroke-linejoin="round"/>
<polygon points="1025.7,571.6 1028.2,574.1 1030.7,571.6 1033.2,574.1 1030.7,576.6 1033.2,579.1 1030.7,581.6 1028.2,579.1 1025.7,581.6 1023.2,579.1 1025.7,576.6 1023.2,574.1" fill="#008000" stroke="#008000" stroke-width="0.8" stroke-linejoin="round"/>
<polygon points="1061.1,558.4 1063.6,560.9 1066.1,558.4 1068.6,560.9 1066.1,563.4 1068.6,565.9 1066.1,568.4 1063.6,565.9 1061.1,568.4 1058.6,565.9 1061.1,563.4 1058.6,560.9" fill="#008000" stroke="#008000" stroke-width="0.8" stroke-linejoin="round"/>
<polygon points="1096.5,549.7 1099.0,552.2 1101.5,549.7 1104.0,552.2 1101.5,554.7 1104.0,557.2 1101.5,559.7 1099.0,557.2 1096.5,559.7 1094.0,557.2 1096.5,554.7 1094.0,552.2" fill="#008000" stroke="#008000" stroke-width="0.8" stroke-linejoin="round"/>
<polygon points="1131.8,543.9 1134.3,546.4 1136.8,543.9 1139.3,546.4 1136.8,548.9 1139.3,551.4 1136.8,553.9 1134.3,551.4 1131.8,553.9 1129.3,551.4 1131.8,548.9 1129.3,546.4" fill="#008000" stroke="#008000" stroke-width="0.8" stroke-linejoin="round"/>
<polygon points="1167.2,539.5 1169.7,542.0 1172.2,539.5 1174.7,542.0 1172.2,544.5 1174.7,547.0 1172.2,549.5 1169.7,547.0 1167.2,549.5 1164.7,547.0 1167.2,544.5 1164.7,542.0" fill="#008000" stroke="#008000" stroke-width="0.8" stroke-linejoin="round"/>
<polygon points="1202.5,536.6 1205.0,539.1 1207.5,536.6 1210.0,539.1 1207.5,541.6 1210.0,544.1 1207.5,546.6 1205.0,544.1 1202.5,546.6 1200.0,544.1 1202.5,541.6 1200.0,539.1" fill="#008000" stroke="#008000" stroke-width="0.8" stroke-linejoin="round"/>
<path d="M886.8,643.7L922.2,649.5L957.5,641.0L992.9,626.6L1028.2,610.8L1063.6,597.6L1099.0,590.5L1134.3,584.5L1169.7,581.8L1205.0,579.2" fill="none" stroke="#ff0000" stroke-width="1.9" stroke-linejoin="round" stroke-dasharray="2.1,3.4"/>
<path d="M891.6,643.7L882.0,638.9L882.0,648.5Z" fill="#ff0000"/>
<path d="M927.0,649.5L917.4,644.7L917.4,654.3Z" fill="#ff0000"/>
<path d="M962.3,641.0L952.7,636.2L952.7,645.8Z" fill="#ff0000"/>
<path d="M997.7,626.6L988.1,621.8L988.1,631.4Z" fill="#ff0000"/>
<path d="M1033.0,610.8L1023.4,606.0L1023.4,615.6Z" fill="#ff0000"/>
<path d="M1068.4,597.6L1058.8,592.8L1058.8,602.4Z" fill="#ff0000"/>
<path d="M1103.8,590.5L1094.2,585.7L1094.2,595.3Z" fill="#ff0000"/>
<path d="M1139.1,584.5L1129.5,579.7L1129.5,589.3Z" fill="#ff0000"/>
<path d="M1174.5,581.8L1164.9,577.0L1164.9,586.6Z" fill="#ff0000"/>
<path d="M1209.8,579.2L1200.2,574.4L1200.2,584.0Z" fill="#ff0000"/>
</g>
<rect x="871.3" y="434.3" width="349.70000000000005" height="225.59999999999997" fill="none" stroke="#1a1a1a" stroke-width="1.4"/>
<line x1="886.8" y1="659.9" x2="886.8" y2="665.9" stroke="#1a1a1a" stroke-width="1.3"/>
<text transform="translate(886.80,681.10) scale(1,1.09)" font-family='"Liberation Sans", sans-serif' font-size="15.0" text-anchor="middle" fill="#1c1c1c" textLength="8.5" lengthAdjust="spacingAndGlyphs" >0</text>
<line x1="957.52" y1="659.9" x2="957.52" y2="665.9" stroke="#1a1a1a" stroke-width="1.3"/>
<text transform="translate(957.52,681.10) scale(1,1.09)" font-family='"Liberation Sans", sans-serif' font-size="15.0" text-anchor="middle" fill="#1c1c1c" textLength="17.0" lengthAdjust="spacingAndGlyphs" >20</text>
<line x1="1028.24" y1="659.9" x2="1028.24" y2="665.9" stroke="#1a1a1a" stroke-width="1.3"/>
<text transform="translate(1028.24,681.10) scale(1,1.09)" font-family='"Liberation Sans", sans-serif' font-size="15.0" text-anchor="middle" fill="#1c1c1c" textLength="17.0" lengthAdjust="spacingAndGlyphs" >40</text>
<line x1="1098.96" y1="659.9" x2="1098.96" y2="665.9" stroke="#1a1a1a" stroke-width="1.3"/>
<text transform="translate(1098.96,681.10) scale(1,1.09)" font-family='"Liberation Sans", sans-serif' font-size="15.0" text-anchor="middle" fill="#1c1c1c" textLength="17.0" lengthAdjust="spacingAndGlyphs" >60</text>
<line x1="1169.6799999999998" y1="659.9" x2="1169.6799999999998" y2="665.9" stroke="#1a1a1a" stroke-width="1.3"/>
<text transform="translate(1169.68,681.10) scale(1,1.09)" font-family='"Liberation Sans", sans-serif' font-size="15.0" text-anchor="middle" fill="#1c1c1c" textLength="17.0" lengthAdjust="spacingAndGlyphs" >80</text>
<line x1="868.10" y1="447.26" x2="871.3" y2="447.26" stroke="#1a1a1a" stroke-width="1.05"/>
<text transform="translate(814.50,454.16) scale(1,1.09)" font-family='"Liberation Sans", sans-serif' font-size="15.2" text-anchor="middle" fill="#1c1c1c">4</text>
<text transform="translate(827.90,454.86) scale(1,1.09)" font-family='"Liberation Sans", sans-serif' font-size="17.5" text-anchor="middle" fill="#1c1c1c">×</text>
<text transform="translate(841.70,453.96) scale(1,1.09)" font-family='"Liberation Sans", sans-serif' font-size="15.2" text-anchor="middle" fill="#1c1c1c">1</text>
<text transform="translate(850.40,453.96) scale(1,1.09)" font-family='"Liberation Sans", sans-serif' font-size="15.2" text-anchor="middle" fill="#1c1c1c">0</text>
<text transform="translate(857.90,448.46) scale(1,1.09)" font-family='"Liberation Sans", sans-serif' font-size="9.2" text-anchor="middle" fill="#1c1c1c">0</text>
<line x1="868.10" y1="485.99" x2="871.3" y2="485.99" stroke="#1a1a1a" stroke-width="1.05"/>
<text transform="translate(814.50,492.89) scale(1,1.09)" font-family='"Liberation Sans", sans-serif' font-size="15.2" text-anchor="middle" fill="#1c1c1c">3</text>
<text transform="translate(827.90,493.59) scale(1,1.09)" font-family='"Liberation Sans", sans-serif' font-size="17.5" text-anchor="middle" fill="#1c1c1c">×</text>
<text transform="translate(841.70,492.69) scale(1,1.09)" font-family='"Liberation Sans", sans-serif' font-size="15.2" text-anchor="middle" fill="#1c1c1c">1</text>
<text transform="translate(850.40,492.69) scale(1,1.09)" font-family='"Liberation Sans", sans-serif' font-size="15.2" text-anchor="middle" fill="#1c1c1c">0</text>
<text transform="translate(857.90,487.19) scale(1,1.09)" font-family='"Liberation Sans", sans-serif' font-size="9.2" text-anchor="middle" fill="#1c1c1c">0</text>
<line x1="868.10" y1="540.58" x2="871.3" y2="540.58" stroke="#1a1a1a" stroke-width="1.05"/>
<text transform="translate(814.50,547.48) scale(1,1.09)" font-family='"Liberation Sans", sans-serif' font-size="15.2" text-anchor="middle" fill="#1c1c1c">2</text>
<text transform="translate(827.90,548.18) scale(1,1.09)" font-family='"Liberation Sans", sans-serif' font-size="17.5" text-anchor="middle" fill="#1c1c1c">×</text>
<text transform="translate(841.70,547.28) scale(1,1.09)" font-family='"Liberation Sans", sans-serif' font-size="15.2" text-anchor="middle" fill="#1c1c1c">1</text>
<text transform="translate(850.40,547.28) scale(1,1.09)" font-family='"Liberation Sans", sans-serif' font-size="15.2" text-anchor="middle" fill="#1c1c1c">0</text>
<text transform="translate(857.90,541.78) scale(1,1.09)" font-family='"Liberation Sans", sans-serif' font-size="9.2" text-anchor="middle" fill="#1c1c1c">0</text>
<line x1="866.00" y1="633.90" x2="871.3" y2="633.90" stroke="#1a1a1a" stroke-width="1.3"/>
<text transform="translate(839.90,640.30) scale(1,1.09)" font-family='"Liberation Sans", sans-serif' font-size="15.2" text-anchor="middle" fill="#1c1c1c">1</text>
<text transform="translate(848.40,640.30) scale(1,1.09)" font-family='"Liberation Sans", sans-serif' font-size="15.2" text-anchor="middle" fill="#1c1c1c">0</text>
<text transform="translate(855.90,634.70) scale(1,1.09)" font-family='"Liberation Sans", sans-serif' font-size="9.2" text-anchor="middle" fill="#1c1c1c">0</text>
<line x1="868.10" y1="648.08" x2="871.3" y2="648.08" stroke="#1a1a1a" stroke-width="1.05"/>
<text transform="translate(1044.75,424.90) scale(1,1.09)" font-family='"Liberation Sans", sans-serif' font-size="16.8" text-anchor="middle" fill="#1c1c1c" textLength="159" lengthAdjust="spacingAndGlyphs" >Variance Estimate</text>
<text transform="translate(1044.80,701.00) scale(1,1.09)" font-family='"Liberation Sans", sans-serif' font-size="13.9" text-anchor="middle" fill="#1c1c1c" textLength="91" lengthAdjust="spacingAndGlyphs" >n-step value</text>
<rect x="1237.2" y="465.3" width="128.70000000000005" height="112.49999999999994" rx="2.5" fill="#fff" stroke="#cccccc" stroke-width="1.3"/>
<text transform="translate(1301.20,482.70) scale(1,1.09)" font-family='"Liberation Sans", sans-serif' font-size="13.9" text-anchor="middle" fill="#1c1c1c" textLength="116.3" lengthAdjust="spacingAndGlyphs" ># of Trajectories</text>
<path d="M1261,499.1L1291.8,499.1" stroke="#0000ff" stroke-width="1.95" fill="none"/>
<path d="M1276.4,491.7L1283.8,499.1L1276.4,506.5L1269.0,499.1Z" fill="#0000ff"/>
<text transform="translate(1304.20,504.70) scale(1,1.09)" font-family='"Liberation Sans", sans-serif' font-size="14.8" text-anchor="start" fill="#1c1c1c" textLength="25.3" lengthAdjust="spacingAndGlyphs" >256</text>
<path d="M1261,520.6L1291.8,520.6" stroke="#ffa500" stroke-width="1.95" fill="none" stroke-dasharray="7.7,3.3"/>
<polygon points="1276.4,516.0 1281.4,519.6 1279.5,525.4 1273.3,525.4 1271.4,519.6" fill="#ffa500"/>
<text transform="translate(1304.20,526.20) scale(1,1.09)" font-family='"Liberation Sans", sans-serif' font-size="14.8" text-anchor="start" fill="#1c1c1c" textLength="25.3" lengthAdjust="spacingAndGlyphs" >512</text>
<path d="M1261,542.1L1291.8,542.1" stroke="#008000" stroke-width="1.95" fill="none" stroke-dasharray="13.3,3.3,2.1,3.3"/>
<polygon points="1273.8,536.9 1276.4,539.5 1279.0,536.9 1281.7,539.5 1279.0,542.1 1281.7,544.7 1279.0,547.4 1276.4,544.7 1273.8,547.4 1271.2,544.7 1273.8,542.1 1271.2,539.5" fill="#008000" stroke="#008000" stroke-width="0.8" stroke-linejoin="round"/>
<text transform="translate(1304.20,547.70) scale(1,1.09)" font-family='"Liberation Sans", sans-serif' font-size="14.8" text-anchor="start" fill="#1c1c1c" textLength="33.8" lengthAdjust="spacingAndGlyphs" >1024</text>
<path d="M1261,563.6L1291.8,563.6" stroke="#ff0000" stroke-width="1.95" fill="none" stroke-dasharray="2.1,3.4"/>
<path d="M1281.3,563.6L1271.5,558.7L1271.5,568.5Z" fill="#ff0000"/>
<text transform="translate(1304.20,569.20) scale(1,1.09)" font-family='"Liberation Sans", sans-serif' font-size="14.8" text-anchor="start" fill="#1c1c1c" textLength="33.8" lengthAdjust="spacingAndGlyphs" >2048</text>
<text font-family='"Liberation Serif", serif' font-size="30.5" x="503.0" y="352.3" textLength="117.6" lengthAdjust="spacingAndGlyphs">(a) SOPE</text>
<text font-family='"Liberation Serif", serif' font-size="25" x="622.5" y="355.5" font-style="italic">n</text>
<text font-family='"Liberation Serif", serif' font-size="30.5" x="646.5" y="352.3" textLength="224.3" lengthAdjust="spacingAndGlyphs">on Graph Domain</text>
<text font-family='"Liberation Serif", serif' font-size="30.5" x="427.1" y="752.6" textLength="120.8" lengthAdjust="spacingAndGlyphs">(b) SOPE</text>
<text font-family='"Liberation Serif", serif' font-size="25" x="548.0" y="755.5" font-style="italic">n</text>
<text font-family='"Liberation Serif", serif' font-size="30.5" x="572.2" y="752.6" textLength="374.3" lengthAdjust="spacingAndGlyphs">on Toy Mountain Car Domain</text>
</svg></body></html>
